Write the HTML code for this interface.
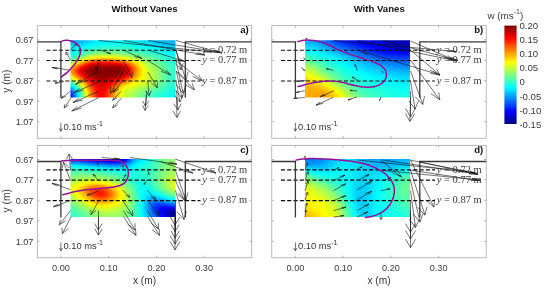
<!DOCTYPE html>
<html lang="en"><head><meta charset="utf-8"><title>Vertical velocity with and without vanes</title>
<style>html,body{margin:0;padding:0;background:#fff}svg{display:block}text{font-family:"Liberation Sans",Arial,sans-serif;fill:#383838}.tk{font-size:9.15px}.sc{font-size:9.4px;fill:#333}.lab{font-size:10.2px}.bold{font-size:9.6px;font-weight:bold;fill:#111}.ser{font-family:"Liberation Serif","DejaVu Serif",serif;font-size:9.6px;fill:#3a3a3a}.cb{font-size:9.6px}</style></head><body>
<svg width="550" height="292" viewBox="0 0 550 292">
<defs>
<filter id="jet" x="-5%" y="-10%" width="110%" height="120%" color-interpolation-filters="sRGB"><feGaussianBlur stdDeviation="2"/><feComponentTransfer><feFuncR type="table" tableValues="0 0 0 0 0.5 1 1 1 0.5"/><feFuncG type="table" tableValues="0 0 0.5 1 1 1 0.5 0 0"/><feFuncB type="table" tableValues="0.5 1 1 1 0.5 0 0 0 0"/><feFuncA type="linear" slope="100" intercept="0"/></feComponentTransfer></filter>
<clipPath id="hca"><rect x="70.5" y="40.2" width="105" height="57.3"/></clipPath>
<clipPath id="hcb"><rect x="305" y="40.2" width="105" height="57.3"/></clipPath>
<clipPath id="hcc"><rect x="70.5" y="159.1" width="105" height="57.8"/></clipPath>
<clipPath id="hcd"><rect x="305" y="159.1" width="105" height="57.8"/></clipPath>
<linearGradient id="cbg" x1="0" y1="1" x2="0" y2="0"><stop offset="0" stop-color="#000080"/><stop offset="0.125" stop-color="#0000ff"/><stop offset="0.375" stop-color="#00ffff"/><stop offset="0.625" stop-color="#ffff00"/><stop offset="0.875" stop-color="#ff0000"/><stop offset="1" stop-color="#800000"/></linearGradient>
</defs>
<rect width="550" height="292" fill="#fff"/>
<g clip-path="url(#hca)"><g filter="url(#jet)">
<rect x="64.5" y="34.2" width="8.5" height="4.5" fill="#3d3d3d"/>
<rect x="72.5" y="34.2" width="4.5" height="4.5" fill="#424242"/>
<rect x="76.5" y="34.2" width="4.5" height="4.5" fill="#474747"/>
<rect x="80.5" y="34.2" width="4.5" height="4.5" fill="#4c4c4c"/>
<rect x="84.5" y="34.2" width="4.5" height="4.5" fill="#4f4f4f"/>
<rect x="88.5" y="34.2" width="4.5" height="4.5" fill="#545454"/>
<rect x="92.5" y="34.2" width="4.5" height="4.5" fill="#565656"/>
<rect x="96.5" y="34.2" width="12.5" height="4.5" fill="#595959"/>
<rect x="108.5" y="34.2" width="8.5" height="4.5" fill="#5b5b5b"/>
<rect x="116.5" y="34.2" width="12.5" height="4.5" fill="#5e5e5e"/>
<rect x="128.5" y="34.2" width="8.5" height="4.5" fill="#5b5b5b"/>
<rect x="136.5" y="34.2" width="4.5" height="4.5" fill="#595959"/>
<rect x="140.5" y="34.2" width="8.5" height="4.5" fill="#565656"/>
<rect x="148.5" y="34.2" width="4.5" height="4.5" fill="#545454"/>
<rect x="152.5" y="34.2" width="4.5" height="4.5" fill="#515151"/>
<rect x="156.5" y="34.2" width="4.5" height="4.5" fill="#4f4f4f"/>
<rect x="160.5" y="34.2" width="24.5" height="4.5" fill="#4c4c4c"/>
<rect x="64.5" y="38.2" width="8.5" height="4.5" fill="#3d3d3d"/>
<rect x="72.5" y="38.2" width="4.5" height="4.5" fill="#424242"/>
<rect x="76.5" y="38.2" width="4.5" height="4.5" fill="#474747"/>
<rect x="80.5" y="38.2" width="4.5" height="4.5" fill="#4c4c4c"/>
<rect x="84.5" y="38.2" width="4.5" height="4.5" fill="#4f4f4f"/>
<rect x="88.5" y="38.2" width="4.5" height="4.5" fill="#545454"/>
<rect x="92.5" y="38.2" width="4.5" height="4.5" fill="#565656"/>
<rect x="96.5" y="38.2" width="12.5" height="4.5" fill="#595959"/>
<rect x="108.5" y="38.2" width="8.5" height="4.5" fill="#5b5b5b"/>
<rect x="116.5" y="38.2" width="12.5" height="4.5" fill="#5e5e5e"/>
<rect x="128.5" y="38.2" width="8.5" height="4.5" fill="#5b5b5b"/>
<rect x="136.5" y="38.2" width="4.5" height="4.5" fill="#595959"/>
<rect x="140.5" y="38.2" width="8.5" height="4.5" fill="#565656"/>
<rect x="148.5" y="38.2" width="4.5" height="4.5" fill="#545454"/>
<rect x="152.5" y="38.2" width="4.5" height="4.5" fill="#515151"/>
<rect x="156.5" y="38.2" width="4.5" height="4.5" fill="#4f4f4f"/>
<rect x="160.5" y="38.2" width="24.5" height="4.5" fill="#4c4c4c"/>
<rect x="64.5" y="42.2" width="8.5" height="4.5" fill="#515151"/>
<rect x="72.5" y="42.2" width="8.5" height="4.5" fill="#545454"/>
<rect x="80.5" y="42.2" width="4.5" height="4.5" fill="#565656"/>
<rect x="84.5" y="42.2" width="4.5" height="4.5" fill="#595959"/>
<rect x="88.5" y="42.2" width="4.5" height="4.5" fill="#5b5b5b"/>
<rect x="92.5" y="42.2" width="4.5" height="4.5" fill="#5e5e5e"/>
<rect x="96.5" y="42.2" width="20.5" height="4.5" fill="#606060"/>
<rect x="116.5" y="42.2" width="8.5" height="4.5" fill="#636363"/>
<rect x="124.5" y="42.2" width="12.5" height="4.5" fill="#606060"/>
<rect x="136.5" y="42.2" width="4.5" height="4.5" fill="#5e5e5e"/>
<rect x="140.5" y="42.2" width="4.5" height="4.5" fill="#5b5b5b"/>
<rect x="144.5" y="42.2" width="4.5" height="4.5" fill="#595959"/>
<rect x="148.5" y="42.2" width="8.5" height="4.5" fill="#565656"/>
<rect x="156.5" y="42.2" width="4.5" height="4.5" fill="#545454"/>
<rect x="160.5" y="42.2" width="8.5" height="4.5" fill="#515151"/>
<rect x="168.5" y="42.2" width="16.5" height="4.5" fill="#4f4f4f"/>
<rect x="64.5" y="46.2" width="8.5" height="4.5" fill="#5b5b5b"/>
<rect x="72.5" y="46.2" width="4.5" height="4.5" fill="#5e5e5e"/>
<rect x="76.5" y="46.2" width="4.5" height="4.5" fill="#606060"/>
<rect x="80.5" y="46.2" width="4.5" height="4.5" fill="#636363"/>
<rect x="84.5" y="46.2" width="4.5" height="4.5" fill="#666666"/>
<rect x="88.5" y="46.2" width="8.5" height="4.5" fill="#686868"/>
<rect x="96.5" y="46.2" width="4.5" height="4.5" fill="#6b6b6b"/>
<rect x="100.5" y="46.2" width="20.5" height="4.5" fill="#6d6d6d"/>
<rect x="120.5" y="46.2" width="12.5" height="4.5" fill="#6b6b6b"/>
<rect x="132.5" y="46.2" width="4.5" height="4.5" fill="#686868"/>
<rect x="136.5" y="46.2" width="4.5" height="4.5" fill="#666666"/>
<rect x="140.5" y="46.2" width="8.5" height="4.5" fill="#636363"/>
<rect x="148.5" y="46.2" width="4.5" height="4.5" fill="#606060"/>
<rect x="152.5" y="46.2" width="4.5" height="4.5" fill="#5e5e5e"/>
<rect x="156.5" y="46.2" width="4.5" height="4.5" fill="#5b5b5b"/>
<rect x="160.5" y="46.2" width="8.5" height="4.5" fill="#595959"/>
<rect x="168.5" y="46.2" width="8.5" height="4.5" fill="#565656"/>
<rect x="176.5" y="46.2" width="8.5" height="4.5" fill="#545454"/>
<rect x="64.5" y="50.2" width="8.5" height="4.5" fill="#5e5e5e"/>
<rect x="72.5" y="50.2" width="4.5" height="4.5" fill="#636363"/>
<rect x="76.5" y="50.2" width="4.5" height="4.5" fill="#686868"/>
<rect x="80.5" y="50.2" width="4.5" height="4.5" fill="#6d6d6d"/>
<rect x="84.5" y="50.2" width="4.5" height="4.5" fill="#727272"/>
<rect x="88.5" y="50.2" width="4.5" height="4.5" fill="#777777"/>
<rect x="92.5" y="50.2" width="4.5" height="4.5" fill="#7a7a7a"/>
<rect x="96.5" y="50.2" width="20.5" height="4.5" fill="#7c7c7c"/>
<rect x="116.5" y="50.2" width="8.5" height="4.5" fill="#7a7a7a"/>
<rect x="124.5" y="50.2" width="4.5" height="4.5" fill="#777777"/>
<rect x="128.5" y="50.2" width="4.5" height="4.5" fill="#757575"/>
<rect x="132.5" y="50.2" width="8.5" height="4.5" fill="#727272"/>
<rect x="140.5" y="50.2" width="4.5" height="4.5" fill="#707070"/>
<rect x="144.5" y="50.2" width="4.5" height="4.5" fill="#6d6d6d"/>
<rect x="148.5" y="50.2" width="8.5" height="4.5" fill="#6b6b6b"/>
<rect x="156.5" y="50.2" width="4.5" height="4.5" fill="#666666"/>
<rect x="160.5" y="50.2" width="4.5" height="4.5" fill="#636363"/>
<rect x="164.5" y="50.2" width="4.5" height="4.5" fill="#606060"/>
<rect x="168.5" y="50.2" width="4.5" height="4.5" fill="#5e5e5e"/>
<rect x="172.5" y="50.2" width="12.5" height="4.5" fill="#5b5b5b"/>
<rect x="64.5" y="54.2" width="8.5" height="4.5" fill="#636363"/>
<rect x="72.5" y="54.2" width="4.5" height="4.5" fill="#6b6b6b"/>
<rect x="76.5" y="54.2" width="4.5" height="4.5" fill="#727272"/>
<rect x="80.5" y="54.2" width="4.5" height="4.5" fill="#7a7a7a"/>
<rect x="84.5" y="54.2" width="4.5" height="4.5" fill="#848484"/>
<rect x="88.5" y="54.2" width="4.5" height="4.5" fill="#898989"/>
<rect x="92.5" y="54.2" width="4.5" height="4.5" fill="#8e8e8e"/>
<rect x="96.5" y="54.2" width="4.5" height="4.5" fill="#919191"/>
<rect x="100.5" y="54.2" width="8.5" height="4.5" fill="#939393"/>
<rect x="108.5" y="54.2" width="8.5" height="4.5" fill="#919191"/>
<rect x="116.5" y="54.2" width="4.5" height="4.5" fill="#8e8e8e"/>
<rect x="120.5" y="54.2" width="4.5" height="4.5" fill="#8c8c8c"/>
<rect x="124.5" y="54.2" width="4.5" height="4.5" fill="#878787"/>
<rect x="128.5" y="54.2" width="4.5" height="4.5" fill="#848484"/>
<rect x="132.5" y="54.2" width="4.5" height="4.5" fill="#7f7f7f"/>
<rect x="136.5" y="54.2" width="4.5" height="4.5" fill="#7c7c7c"/>
<rect x="140.5" y="54.2" width="4.5" height="4.5" fill="#7a7a7a"/>
<rect x="144.5" y="54.2" width="4.5" height="4.5" fill="#777777"/>
<rect x="148.5" y="54.2" width="4.5" height="4.5" fill="#757575"/>
<rect x="152.5" y="54.2" width="4.5" height="4.5" fill="#727272"/>
<rect x="156.5" y="54.2" width="4.5" height="4.5" fill="#707070"/>
<rect x="160.5" y="54.2" width="4.5" height="4.5" fill="#6b6b6b"/>
<rect x="164.5" y="54.2" width="4.5" height="4.5" fill="#686868"/>
<rect x="168.5" y="54.2" width="4.5" height="4.5" fill="#666666"/>
<rect x="172.5" y="54.2" width="4.5" height="4.5" fill="#636363"/>
<rect x="176.5" y="54.2" width="8.5" height="4.5" fill="#606060"/>
<rect x="64.5" y="58.2" width="8.5" height="4.5" fill="#727272"/>
<rect x="72.5" y="58.2" width="4.5" height="4.5" fill="#828282"/>
<rect x="76.5" y="58.2" width="4.5" height="4.5" fill="#8e8e8e"/>
<rect x="80.5" y="58.2" width="4.5" height="4.5" fill="#9e9e9e"/>
<rect x="84.5" y="58.2" width="4.5" height="4.5" fill="#aaaaaa"/>
<rect x="88.5" y="58.2" width="4.5" height="4.5" fill="#b7b7b7"/>
<rect x="92.5" y="58.2" width="4.5" height="4.5" fill="#bcbcbc"/>
<rect x="96.5" y="58.2" width="12.5" height="4.5" fill="#c1c1c1"/>
<rect x="108.5" y="58.2" width="4.5" height="4.5" fill="#bfbfbf"/>
<rect x="112.5" y="58.2" width="4.5" height="4.5" fill="#bcbcbc"/>
<rect x="116.5" y="58.2" width="4.5" height="4.5" fill="#bababa"/>
<rect x="120.5" y="58.2" width="4.5" height="4.5" fill="#b5b5b5"/>
<rect x="124.5" y="58.2" width="4.5" height="4.5" fill="#aaaaaa"/>
<rect x="128.5" y="58.2" width="4.5" height="4.5" fill="#a3a3a3"/>
<rect x="132.5" y="58.2" width="4.5" height="4.5" fill="#999999"/>
<rect x="136.5" y="58.2" width="4.5" height="4.5" fill="#919191"/>
<rect x="140.5" y="58.2" width="4.5" height="4.5" fill="#898989"/>
<rect x="144.5" y="58.2" width="4.5" height="4.5" fill="#848484"/>
<rect x="148.5" y="58.2" width="4.5" height="4.5" fill="#7f7f7f"/>
<rect x="152.5" y="58.2" width="4.5" height="4.5" fill="#7a7a7a"/>
<rect x="156.5" y="58.2" width="4.5" height="4.5" fill="#757575"/>
<rect x="160.5" y="58.2" width="4.5" height="4.5" fill="#727272"/>
<rect x="164.5" y="58.2" width="4.5" height="4.5" fill="#6d6d6d"/>
<rect x="168.5" y="58.2" width="4.5" height="4.5" fill="#6b6b6b"/>
<rect x="172.5" y="58.2" width="12.5" height="4.5" fill="#666666"/>
<rect x="64.5" y="62.2" width="8.5" height="4.5" fill="#8c8c8c"/>
<rect x="72.5" y="62.2" width="4.5" height="4.5" fill="#a3a3a3"/>
<rect x="76.5" y="62.2" width="4.5" height="4.5" fill="#b7b7b7"/>
<rect x="80.5" y="62.2" width="4.5" height="4.5" fill="#c9c9c9"/>
<rect x="84.5" y="62.2" width="4.5" height="4.5" fill="#d8d8d8"/>
<rect x="88.5" y="62.2" width="4.5" height="4.5" fill="#e5e5e5"/>
<rect x="92.5" y="62.2" width="20.5" height="4.5" fill="#ededed"/>
<rect x="112.5" y="62.2" width="4.5" height="4.5" fill="#eaeaea"/>
<rect x="116.5" y="62.2" width="4.5" height="4.5" fill="#e8e8e8"/>
<rect x="120.5" y="62.2" width="4.5" height="4.5" fill="#e2e2e2"/>
<rect x="124.5" y="62.2" width="4.5" height="4.5" fill="#d6d6d6"/>
<rect x="128.5" y="62.2" width="4.5" height="4.5" fill="#c4c4c4"/>
<rect x="132.5" y="62.2" width="4.5" height="4.5" fill="#b5b5b5"/>
<rect x="136.5" y="62.2" width="4.5" height="4.5" fill="#a5a5a5"/>
<rect x="140.5" y="62.2" width="4.5" height="4.5" fill="#999999"/>
<rect x="144.5" y="62.2" width="4.5" height="4.5" fill="#8e8e8e"/>
<rect x="148.5" y="62.2" width="4.5" height="4.5" fill="#878787"/>
<rect x="152.5" y="62.2" width="4.5" height="4.5" fill="#828282"/>
<rect x="156.5" y="62.2" width="4.5" height="4.5" fill="#7c7c7c"/>
<rect x="160.5" y="62.2" width="4.5" height="4.5" fill="#777777"/>
<rect x="164.5" y="62.2" width="4.5" height="4.5" fill="#727272"/>
<rect x="168.5" y="62.2" width="4.5" height="4.5" fill="#6d6d6d"/>
<rect x="172.5" y="62.2" width="4.5" height="4.5" fill="#6b6b6b"/>
<rect x="176.5" y="62.2" width="8.5" height="4.5" fill="#686868"/>
<rect x="64.5" y="66.2" width="8.5" height="4.5" fill="#afafaf"/>
<rect x="72.5" y="66.2" width="4.5" height="4.5" fill="#c6c6c6"/>
<rect x="76.5" y="66.2" width="4.5" height="4.5" fill="#d8d8d8"/>
<rect x="80.5" y="66.2" width="4.5" height="4.5" fill="#e8e8e8"/>
<rect x="84.5" y="66.2" width="4.5" height="4.5" fill="#f4f4f4"/>
<rect x="88.5" y="66.2" width="4.5" height="4.5" fill="#fcfcfc"/>
<rect x="92.5" y="66.2" width="8.5" height="4.5" fill="#fefefe"/>
<rect x="100.5" y="66.2" width="12.5" height="4.5" fill="#fcfcfc"/>
<rect x="112.5" y="66.2" width="12.5" height="4.5" fill="#fefefe"/>
<rect x="124.5" y="66.2" width="4.5" height="4.5" fill="#efefef"/>
<rect x="128.5" y="66.2" width="4.5" height="4.5" fill="#dbdbdb"/>
<rect x="132.5" y="66.2" width="4.5" height="4.5" fill="#c4c4c4"/>
<rect x="136.5" y="66.2" width="4.5" height="4.5" fill="#b2b2b2"/>
<rect x="140.5" y="66.2" width="4.5" height="4.5" fill="#a3a3a3"/>
<rect x="144.5" y="66.2" width="4.5" height="4.5" fill="#969696"/>
<rect x="148.5" y="66.2" width="4.5" height="4.5" fill="#8e8e8e"/>
<rect x="152.5" y="66.2" width="4.5" height="4.5" fill="#898989"/>
<rect x="156.5" y="66.2" width="4.5" height="4.5" fill="#828282"/>
<rect x="160.5" y="66.2" width="4.5" height="4.5" fill="#7a7a7a"/>
<rect x="164.5" y="66.2" width="4.5" height="4.5" fill="#757575"/>
<rect x="168.5" y="66.2" width="4.5" height="4.5" fill="#707070"/>
<rect x="172.5" y="66.2" width="12.5" height="4.5" fill="#6b6b6b"/>
<rect x="64.5" y="70.2" width="8.5" height="4.5" fill="#b5b5b5"/>
<rect x="72.5" y="70.2" width="4.5" height="4.5" fill="#cccccc"/>
<rect x="76.5" y="70.2" width="4.5" height="4.5" fill="#dddddd"/>
<rect x="80.5" y="70.2" width="4.5" height="4.5" fill="#ededed"/>
<rect x="84.5" y="70.2" width="4.5" height="4.5" fill="#f9f9f9"/>
<rect x="88.5" y="70.2" width="36.5" height="4.5" fill="#fefefe"/>
<rect x="124.5" y="70.2" width="4.5" height="4.5" fill="#f4f4f4"/>
<rect x="128.5" y="70.2" width="4.5" height="4.5" fill="#dddddd"/>
<rect x="132.5" y="70.2" width="4.5" height="4.5" fill="#c6c6c6"/>
<rect x="136.5" y="70.2" width="4.5" height="4.5" fill="#b2b2b2"/>
<rect x="140.5" y="70.2" width="4.5" height="4.5" fill="#a3a3a3"/>
<rect x="144.5" y="70.2" width="4.5" height="4.5" fill="#999999"/>
<rect x="148.5" y="70.2" width="4.5" height="4.5" fill="#919191"/>
<rect x="152.5" y="70.2" width="4.5" height="4.5" fill="#8c8c8c"/>
<rect x="156.5" y="70.2" width="4.5" height="4.5" fill="#848484"/>
<rect x="160.5" y="70.2" width="4.5" height="4.5" fill="#7c7c7c"/>
<rect x="164.5" y="70.2" width="4.5" height="4.5" fill="#757575"/>
<rect x="168.5" y="70.2" width="4.5" height="4.5" fill="#707070"/>
<rect x="172.5" y="70.2" width="12.5" height="4.5" fill="#6b6b6b"/>
<rect x="64.5" y="74.2" width="8.5" height="4.5" fill="#a3a3a3"/>
<rect x="72.5" y="74.2" width="4.5" height="4.5" fill="#b7b7b7"/>
<rect x="76.5" y="74.2" width="4.5" height="4.5" fill="#cccccc"/>
<rect x="80.5" y="74.2" width="4.5" height="4.5" fill="#dddddd"/>
<rect x="84.5" y="74.2" width="4.5" height="4.5" fill="#ededed"/>
<rect x="88.5" y="74.2" width="4.5" height="4.5" fill="#f7f7f7"/>
<rect x="92.5" y="74.2" width="20.5" height="4.5" fill="#fcfcfc"/>
<rect x="112.5" y="74.2" width="8.5" height="4.5" fill="#f9f9f9"/>
<rect x="120.5" y="74.2" width="4.5" height="4.5" fill="#f2f2f2"/>
<rect x="124.5" y="74.2" width="4.5" height="4.5" fill="#e2e2e2"/>
<rect x="128.5" y="74.2" width="4.5" height="4.5" fill="#cecece"/>
<rect x="132.5" y="74.2" width="4.5" height="4.5" fill="#bcbcbc"/>
<rect x="136.5" y="74.2" width="4.5" height="4.5" fill="#adadad"/>
<rect x="140.5" y="74.2" width="4.5" height="4.5" fill="#a0a0a0"/>
<rect x="144.5" y="74.2" width="4.5" height="4.5" fill="#999999"/>
<rect x="148.5" y="74.2" width="4.5" height="4.5" fill="#919191"/>
<rect x="152.5" y="74.2" width="4.5" height="4.5" fill="#8c8c8c"/>
<rect x="156.5" y="74.2" width="4.5" height="4.5" fill="#848484"/>
<rect x="160.5" y="74.2" width="4.5" height="4.5" fill="#7c7c7c"/>
<rect x="164.5" y="74.2" width="4.5" height="4.5" fill="#757575"/>
<rect x="168.5" y="74.2" width="4.5" height="4.5" fill="#707070"/>
<rect x="172.5" y="74.2" width="12.5" height="4.5" fill="#6b6b6b"/>
<rect x="64.5" y="78.2" width="8.5" height="4.5" fill="#7f7f7f"/>
<rect x="72.5" y="78.2" width="4.5" height="4.5" fill="#969696"/>
<rect x="76.5" y="78.2" width="4.5" height="4.5" fill="#aaaaaa"/>
<rect x="80.5" y="78.2" width="4.5" height="4.5" fill="#bfbfbf"/>
<rect x="84.5" y="78.2" width="4.5" height="4.5" fill="#d3d3d3"/>
<rect x="88.5" y="78.2" width="4.5" height="4.5" fill="#e2e2e2"/>
<rect x="92.5" y="78.2" width="4.5" height="4.5" fill="#ededed"/>
<rect x="96.5" y="78.2" width="4.5" height="4.5" fill="#f2f2f2"/>
<rect x="100.5" y="78.2" width="4.5" height="4.5" fill="#f4f4f4"/>
<rect x="104.5" y="78.2" width="4.5" height="4.5" fill="#f2f2f2"/>
<rect x="108.5" y="78.2" width="4.5" height="4.5" fill="#ededed"/>
<rect x="112.5" y="78.2" width="4.5" height="4.5" fill="#e8e8e8"/>
<rect x="116.5" y="78.2" width="4.5" height="4.5" fill="#dddddd"/>
<rect x="120.5" y="78.2" width="4.5" height="4.5" fill="#d3d3d3"/>
<rect x="124.5" y="78.2" width="4.5" height="4.5" fill="#c6c6c6"/>
<rect x="128.5" y="78.2" width="4.5" height="4.5" fill="#b7b7b7"/>
<rect x="132.5" y="78.2" width="4.5" height="4.5" fill="#aaaaaa"/>
<rect x="136.5" y="78.2" width="4.5" height="4.5" fill="#a3a3a3"/>
<rect x="140.5" y="78.2" width="4.5" height="4.5" fill="#9b9b9b"/>
<rect x="144.5" y="78.2" width="4.5" height="4.5" fill="#969696"/>
<rect x="148.5" y="78.2" width="4.5" height="4.5" fill="#919191"/>
<rect x="152.5" y="78.2" width="4.5" height="4.5" fill="#8c8c8c"/>
<rect x="156.5" y="78.2" width="4.5" height="4.5" fill="#848484"/>
<rect x="160.5" y="78.2" width="4.5" height="4.5" fill="#7c7c7c"/>
<rect x="164.5" y="78.2" width="4.5" height="4.5" fill="#757575"/>
<rect x="168.5" y="78.2" width="4.5" height="4.5" fill="#707070"/>
<rect x="172.5" y="78.2" width="12.5" height="4.5" fill="#6b6b6b"/>
<rect x="64.5" y="82.2" width="8.5" height="4.5" fill="#606060"/>
<rect x="72.5" y="82.2" width="4.5" height="4.5" fill="#757575"/>
<rect x="76.5" y="82.2" width="4.5" height="4.5" fill="#8c8c8c"/>
<rect x="80.5" y="82.2" width="4.5" height="4.5" fill="#a3a3a3"/>
<rect x="84.5" y="82.2" width="4.5" height="4.5" fill="#bcbcbc"/>
<rect x="88.5" y="82.2" width="4.5" height="4.5" fill="#d3d3d3"/>
<rect x="92.5" y="82.2" width="4.5" height="4.5" fill="#e0e0e0"/>
<rect x="96.5" y="82.2" width="8.5" height="4.5" fill="#eaeaea"/>
<rect x="104.5" y="82.2" width="4.5" height="4.5" fill="#e8e8e8"/>
<rect x="108.5" y="82.2" width="4.5" height="4.5" fill="#dddddd"/>
<rect x="112.5" y="82.2" width="4.5" height="4.5" fill="#d1d1d1"/>
<rect x="116.5" y="82.2" width="4.5" height="4.5" fill="#c1c1c1"/>
<rect x="120.5" y="82.2" width="4.5" height="4.5" fill="#b5b5b5"/>
<rect x="124.5" y="82.2" width="4.5" height="4.5" fill="#aaaaaa"/>
<rect x="128.5" y="82.2" width="4.5" height="4.5" fill="#a3a3a3"/>
<rect x="132.5" y="82.2" width="4.5" height="4.5" fill="#9e9e9e"/>
<rect x="136.5" y="82.2" width="4.5" height="4.5" fill="#999999"/>
<rect x="140.5" y="82.2" width="4.5" height="4.5" fill="#939393"/>
<rect x="144.5" y="82.2" width="4.5" height="4.5" fill="#919191"/>
<rect x="148.5" y="82.2" width="4.5" height="4.5" fill="#8c8c8c"/>
<rect x="152.5" y="82.2" width="4.5" height="4.5" fill="#878787"/>
<rect x="156.5" y="82.2" width="4.5" height="4.5" fill="#7f7f7f"/>
<rect x="160.5" y="82.2" width="4.5" height="4.5" fill="#777777"/>
<rect x="164.5" y="82.2" width="4.5" height="4.5" fill="#727272"/>
<rect x="168.5" y="82.2" width="4.5" height="4.5" fill="#6d6d6d"/>
<rect x="172.5" y="82.2" width="4.5" height="4.5" fill="#6b6b6b"/>
<rect x="176.5" y="82.2" width="8.5" height="4.5" fill="#686868"/>
<rect x="64.5" y="86.2" width="8.5" height="4.5" fill="#444444"/>
<rect x="72.5" y="86.2" width="4.5" height="4.5" fill="#595959"/>
<rect x="76.5" y="86.2" width="4.5" height="4.5" fill="#727272"/>
<rect x="80.5" y="86.2" width="4.5" height="4.5" fill="#8c8c8c"/>
<rect x="84.5" y="86.2" width="4.5" height="4.5" fill="#aaaaaa"/>
<rect x="88.5" y="86.2" width="4.5" height="4.5" fill="#c6c6c6"/>
<rect x="92.5" y="86.2" width="4.5" height="4.5" fill="#d8d8d8"/>
<rect x="96.5" y="86.2" width="4.5" height="4.5" fill="#e2e2e2"/>
<rect x="100.5" y="86.2" width="4.5" height="4.5" fill="#e5e5e5"/>
<rect x="104.5" y="86.2" width="4.5" height="4.5" fill="#dddddd"/>
<rect x="108.5" y="86.2" width="4.5" height="4.5" fill="#d1d1d1"/>
<rect x="112.5" y="86.2" width="4.5" height="4.5" fill="#c1c1c1"/>
<rect x="116.5" y="86.2" width="4.5" height="4.5" fill="#afafaf"/>
<rect x="120.5" y="86.2" width="4.5" height="4.5" fill="#a0a0a0"/>
<rect x="124.5" y="86.2" width="4.5" height="4.5" fill="#999999"/>
<rect x="128.5" y="86.2" width="4.5" height="4.5" fill="#969696"/>
<rect x="132.5" y="86.2" width="4.5" height="4.5" fill="#919191"/>
<rect x="136.5" y="86.2" width="4.5" height="4.5" fill="#8e8e8e"/>
<rect x="140.5" y="86.2" width="4.5" height="4.5" fill="#898989"/>
<rect x="144.5" y="86.2" width="4.5" height="4.5" fill="#878787"/>
<rect x="148.5" y="86.2" width="4.5" height="4.5" fill="#828282"/>
<rect x="152.5" y="86.2" width="4.5" height="4.5" fill="#7c7c7c"/>
<rect x="156.5" y="86.2" width="4.5" height="4.5" fill="#777777"/>
<rect x="160.5" y="86.2" width="4.5" height="4.5" fill="#727272"/>
<rect x="164.5" y="86.2" width="4.5" height="4.5" fill="#6d6d6d"/>
<rect x="168.5" y="86.2" width="4.5" height="4.5" fill="#6b6b6b"/>
<rect x="172.5" y="86.2" width="12.5" height="4.5" fill="#666666"/>
<rect x="64.5" y="90.2" width="8.5" height="4.5" fill="#2b2b2b"/>
<rect x="72.5" y="90.2" width="4.5" height="4.5" fill="#444444"/>
<rect x="76.5" y="90.2" width="4.5" height="4.5" fill="#606060"/>
<rect x="80.5" y="90.2" width="4.5" height="4.5" fill="#7f7f7f"/>
<rect x="84.5" y="90.2" width="4.5" height="4.5" fill="#a0a0a0"/>
<rect x="88.5" y="90.2" width="4.5" height="4.5" fill="#bcbcbc"/>
<rect x="92.5" y="90.2" width="4.5" height="4.5" fill="#d3d3d3"/>
<rect x="96.5" y="90.2" width="4.5" height="4.5" fill="#e0e0e0"/>
<rect x="100.5" y="90.2" width="4.5" height="4.5" fill="#e2e2e2"/>
<rect x="104.5" y="90.2" width="4.5" height="4.5" fill="#d8d8d8"/>
<rect x="108.5" y="90.2" width="4.5" height="4.5" fill="#c9c9c9"/>
<rect x="112.5" y="90.2" width="4.5" height="4.5" fill="#b7b7b7"/>
<rect x="116.5" y="90.2" width="4.5" height="4.5" fill="#a8a8a8"/>
<rect x="120.5" y="90.2" width="4.5" height="4.5" fill="#999999"/>
<rect x="124.5" y="90.2" width="4.5" height="4.5" fill="#919191"/>
<rect x="128.5" y="90.2" width="4.5" height="4.5" fill="#8e8e8e"/>
<rect x="132.5" y="90.2" width="4.5" height="4.5" fill="#898989"/>
<rect x="136.5" y="90.2" width="4.5" height="4.5" fill="#848484"/>
<rect x="140.5" y="90.2" width="4.5" height="4.5" fill="#7f7f7f"/>
<rect x="144.5" y="90.2" width="4.5" height="4.5" fill="#7a7a7a"/>
<rect x="148.5" y="90.2" width="4.5" height="4.5" fill="#757575"/>
<rect x="152.5" y="90.2" width="4.5" height="4.5" fill="#727272"/>
<rect x="156.5" y="90.2" width="4.5" height="4.5" fill="#6d6d6d"/>
<rect x="160.5" y="90.2" width="4.5" height="4.5" fill="#6b6b6b"/>
<rect x="164.5" y="90.2" width="8.5" height="4.5" fill="#666666"/>
<rect x="172.5" y="90.2" width="12.5" height="4.5" fill="#636363"/>
<rect x="64.5" y="94.2" width="8.5" height="4.5" fill="#191919"/>
<rect x="72.5" y="94.2" width="4.5" height="4.5" fill="#3a3a3a"/>
<rect x="76.5" y="94.2" width="4.5" height="4.5" fill="#5b5b5b"/>
<rect x="80.5" y="94.2" width="4.5" height="4.5" fill="#7c7c7c"/>
<rect x="84.5" y="94.2" width="4.5" height="4.5" fill="#9e9e9e"/>
<rect x="88.5" y="94.2" width="4.5" height="4.5" fill="#bababa"/>
<rect x="92.5" y="94.2" width="4.5" height="4.5" fill="#d1d1d1"/>
<rect x="96.5" y="94.2" width="4.5" height="4.5" fill="#dddddd"/>
<rect x="100.5" y="94.2" width="4.5" height="4.5" fill="#e0e0e0"/>
<rect x="104.5" y="94.2" width="4.5" height="4.5" fill="#d8d8d8"/>
<rect x="108.5" y="94.2" width="4.5" height="4.5" fill="#c6c6c6"/>
<rect x="112.5" y="94.2" width="4.5" height="4.5" fill="#b5b5b5"/>
<rect x="116.5" y="94.2" width="4.5" height="4.5" fill="#a5a5a5"/>
<rect x="120.5" y="94.2" width="4.5" height="4.5" fill="#969696"/>
<rect x="124.5" y="94.2" width="4.5" height="4.5" fill="#8e8e8e"/>
<rect x="128.5" y="94.2" width="4.5" height="4.5" fill="#8c8c8c"/>
<rect x="132.5" y="94.2" width="4.5" height="4.5" fill="#878787"/>
<rect x="136.5" y="94.2" width="4.5" height="4.5" fill="#7f7f7f"/>
<rect x="140.5" y="94.2" width="4.5" height="4.5" fill="#7a7a7a"/>
<rect x="144.5" y="94.2" width="4.5" height="4.5" fill="#757575"/>
<rect x="148.5" y="94.2" width="4.5" height="4.5" fill="#707070"/>
<rect x="152.5" y="94.2" width="4.5" height="4.5" fill="#6d6d6d"/>
<rect x="156.5" y="94.2" width="4.5" height="4.5" fill="#6b6b6b"/>
<rect x="160.5" y="94.2" width="4.5" height="4.5" fill="#686868"/>
<rect x="164.5" y="94.2" width="4.5" height="4.5" fill="#666666"/>
<rect x="168.5" y="94.2" width="4.5" height="4.5" fill="#636363"/>
<rect x="172.5" y="94.2" width="12.5" height="4.5" fill="#606060"/>
<rect x="64.5" y="98.2" width="8.5" height="4.5" fill="#141414"/>
<rect x="72.5" y="98.2" width="4.5" height="4.5" fill="#383838"/>
<rect x="76.5" y="98.2" width="4.5" height="4.5" fill="#5b5b5b"/>
<rect x="80.5" y="98.2" width="4.5" height="4.5" fill="#7c7c7c"/>
<rect x="84.5" y="98.2" width="4.5" height="4.5" fill="#9e9e9e"/>
<rect x="88.5" y="98.2" width="4.5" height="4.5" fill="#bcbcbc"/>
<rect x="92.5" y="98.2" width="4.5" height="4.5" fill="#d1d1d1"/>
<rect x="96.5" y="98.2" width="4.5" height="4.5" fill="#dddddd"/>
<rect x="100.5" y="98.2" width="4.5" height="4.5" fill="#e0e0e0"/>
<rect x="104.5" y="98.2" width="4.5" height="4.5" fill="#d8d8d8"/>
<rect x="108.5" y="98.2" width="4.5" height="4.5" fill="#c6c6c6"/>
<rect x="112.5" y="98.2" width="4.5" height="4.5" fill="#b7b7b7"/>
<rect x="116.5" y="98.2" width="4.5" height="4.5" fill="#a5a5a5"/>
<rect x="120.5" y="98.2" width="4.5" height="4.5" fill="#999999"/>
<rect x="124.5" y="98.2" width="4.5" height="4.5" fill="#8e8e8e"/>
<rect x="128.5" y="98.2" width="4.5" height="4.5" fill="#898989"/>
<rect x="132.5" y="98.2" width="4.5" height="4.5" fill="#848484"/>
<rect x="136.5" y="98.2" width="4.5" height="4.5" fill="#7f7f7f"/>
<rect x="140.5" y="98.2" width="4.5" height="4.5" fill="#7a7a7a"/>
<rect x="144.5" y="98.2" width="4.5" height="4.5" fill="#757575"/>
<rect x="148.5" y="98.2" width="4.5" height="4.5" fill="#707070"/>
<rect x="152.5" y="98.2" width="4.5" height="4.5" fill="#6d6d6d"/>
<rect x="156.5" y="98.2" width="4.5" height="4.5" fill="#6b6b6b"/>
<rect x="160.5" y="98.2" width="4.5" height="4.5" fill="#686868"/>
<rect x="164.5" y="98.2" width="4.5" height="4.5" fill="#666666"/>
<rect x="168.5" y="98.2" width="4.5" height="4.5" fill="#636363"/>
<rect x="172.5" y="98.2" width="12.5" height="4.5" fill="#606060"/>
<rect x="64.5" y="102.2" width="8.5" height="4.5" fill="#141414"/>
<rect x="72.5" y="102.2" width="4.5" height="4.5" fill="#383838"/>
<rect x="76.5" y="102.2" width="4.5" height="4.5" fill="#5b5b5b"/>
<rect x="80.5" y="102.2" width="4.5" height="4.5" fill="#7c7c7c"/>
<rect x="84.5" y="102.2" width="4.5" height="4.5" fill="#9e9e9e"/>
<rect x="88.5" y="102.2" width="4.5" height="4.5" fill="#bcbcbc"/>
<rect x="92.5" y="102.2" width="4.5" height="4.5" fill="#d1d1d1"/>
<rect x="96.5" y="102.2" width="4.5" height="4.5" fill="#dddddd"/>
<rect x="100.5" y="102.2" width="4.5" height="4.5" fill="#e0e0e0"/>
<rect x="104.5" y="102.2" width="4.5" height="4.5" fill="#d8d8d8"/>
<rect x="108.5" y="102.2" width="4.5" height="4.5" fill="#c6c6c6"/>
<rect x="112.5" y="102.2" width="4.5" height="4.5" fill="#b7b7b7"/>
<rect x="116.5" y="102.2" width="4.5" height="4.5" fill="#a5a5a5"/>
<rect x="120.5" y="102.2" width="4.5" height="4.5" fill="#999999"/>
<rect x="124.5" y="102.2" width="4.5" height="4.5" fill="#8e8e8e"/>
<rect x="128.5" y="102.2" width="4.5" height="4.5" fill="#898989"/>
<rect x="132.5" y="102.2" width="4.5" height="4.5" fill="#848484"/>
<rect x="136.5" y="102.2" width="4.5" height="4.5" fill="#7f7f7f"/>
<rect x="140.5" y="102.2" width="4.5" height="4.5" fill="#7a7a7a"/>
<rect x="144.5" y="102.2" width="4.5" height="4.5" fill="#757575"/>
<rect x="148.5" y="102.2" width="4.5" height="4.5" fill="#707070"/>
<rect x="152.5" y="102.2" width="4.5" height="4.5" fill="#6d6d6d"/>
<rect x="156.5" y="102.2" width="4.5" height="4.5" fill="#6b6b6b"/>
<rect x="160.5" y="102.2" width="4.5" height="4.5" fill="#686868"/>
<rect x="164.5" y="102.2" width="4.5" height="4.5" fill="#666666"/>
<rect x="168.5" y="102.2" width="4.5" height="4.5" fill="#636363"/>
<rect x="172.5" y="102.2" width="12.5" height="4.5" fill="#606060"/>
</g></g>
<rect x="37.3" y="25.7" width="214.4" height="112.5" fill="none" stroke="#9c9c9c" stroke-width="0.7"/>
<path d="M60.9 138.2v-2.2M60.9 25.7v2.2M108.6 138.2v-2.2M108.6 25.7v2.2M156.4 138.2v-2.2M156.4 25.7v2.2M204.1 138.2v-2.2M204.1 25.7v2.2M37.3 39.9h2.2M251.7 39.9h-2.2M37.3 60.3h2.2M251.7 60.3h-2.2M37.3 80.8h2.2M251.7 80.8h-2.2M37.3 101.2h2.2M251.7 101.2h-2.2M37.3 121.7h2.2M251.7 121.7h-2.2" stroke="#9c9c9c" stroke-width="0.7" fill="none"/>
<path d="M46.4 50.3H200.5M46.4 60.5H200.5M46.4 81H200.5" stroke="#0a0a0a" stroke-width="1.1" stroke-dasharray="4.1 2.2" fill="none"/>
<path d="M37.3 41.9H60.9V97.8M185.3 97.8V41.9H251.7" stroke="#383838" stroke-width="1.3" fill="none"/>
<path d="M99 40.5L212 52M203 52L212 52L204 50.2M123.6 40.5L205 55M195.8 54.4L205 55L197.5 52.6M148.4 40.5L221 52.5M211.8 52L221 52.5L213.4 50.2M176 40.5L222 53M212.5 51.6L222 53L215.1 49.9M70.5 49.7L77 43.6M76 45.8L77 43.6L73.7 45.4M100.5 50.2L111 53.8M106.8 53L111 53.8L108.2 52.2M123.6 50.2L142 58.6M134.3 56.5L142 58.6L137.5 55.2M148.4 50.2L185 61.5M175.4 59.9L185 61.5L178.3 58.1M176 50.2L186 80M178.6 72.2L186 80L188 71.7M70.5 60.2L66 52M69.1 54.5L66 52L65.9 54.9M99 60.8L96 70M95.2 66.9L96 70L98.8 67.1M123.6 60.8L132 77.5M126 72.3L132 77.5L132.4 71.7M148.4 60.8L170.7 75M160.9 71.2L170.7 75L166.2 69.7M176 60.8L202.4 81M192.6 76.6L202.4 81L198.7 75.1M69 70L52 67.5M58.1 67.7L52 67.5L57.1 68.9M98.5 71L75.6 84.4M80.4 79.3L75.6 84.4L85.4 80.9M122.6 72L110.8 93.3M110.6 85.9L110.8 93.3L118.8 86.7M147.8 72L157.4 87.8M151.2 82.9L157.4 87.8L157.3 82.2M176 71L194.5 90M185 84.5L194.5 90L192.1 83.3M64 81.5L55 83.2M57.6 82.3L55 83.2L58.3 83M99.8 81.3L73.7 92.7M79.5 88.5L73.7 92.7L83.5 90.1M122.8 80.5L113.4 92.4M114.2 88.1L113.4 92.4L118.8 88.8M147.8 81L149 95.6M145.8 90.8L149 95.6L151.4 90.7M176 81L180 102M174.6 95.2L180 102L182.7 94.9M70.5 91L61.3 98.4M62.9 95.6L61.3 98.4L65.8 96.3M98.5 91.4L73 102.5M78.8 98.3L73 102.5L82.8 99.9M121 91.5L112.7 100.4M113.7 97.2L112.7 100.4L117.2 97.8M146.7 91L145.3 106M142.9 101L145.3 106L148.7 101.1M176.5 91L178 110M173.8 103.8L178 110L181.2 103.7M176 60.8L183 93M176.3 84.9L183 93L186 84.5M176.3 71L182 98M175.4 89.9L182 98L185.1 89.5M176 50.2L181 70M175.5 63.6L181 70L183.2 63.3M71 97.8L64.2 108M64.5 104.4L64.2 108L68.4 104.9M98.5 97.7L71.8 111M77.2 106.4L71.8 111L81.6 108M121.6 97.8L112.7 108M113.7 104.3L112.7 108L117.6 104.9M146.7 95L145 110.5M142.6 105.3L145 110.5L148.5 105.4M176.5 97.7L177 117.5M173 111L177 117.5L180.6 110.9" fill="none" stroke="#141414" stroke-width="0.6" stroke-linejoin="miter"/>
<path d="M61.1 41.7C62.5 40.4 65 40.1 67.5 40.3C72 40.8 76.6 43 78.8 45.8C80.6 48.3 80.7 51 80.2 53.5C79.2 58 76.5 62 73.5 65.8C70 70.2 65.5 74.3 61.4 77" transform="translate(0 0)" stroke="#951295" stroke-width="1.5" fill="none" stroke-linecap="round"/>
<text x="202.2" y="53" class="ser" textLength="45" lengthAdjust="spacingAndGlyphs"><tspan font-style="italic">y</tspan> = 0.72 m</text>
<text x="202.2" y="63.2" class="ser" textLength="45" lengthAdjust="spacingAndGlyphs"><tspan font-style="italic">y</tspan> = 0.77 m</text>
<text x="202.2" y="83.7" class="ser" textLength="45" lengthAdjust="spacingAndGlyphs"><tspan font-style="italic">y</tspan> = 0.87 m</text>
<text x="248.8" y="33.3" class="bold" text-anchor="end">a)</text>
<path d="M60.9 122.8L60.9 131.2M59.3 128.4L60.9 131.2L62.5 128.4" fill="none" stroke="#333" stroke-width="0.7"/>
<text x="63.4" y="129.5" class="sc">0.10 ms<tspan dy="-3.9" font-size="7">-1</tspan></text>
<text x="33.4" y="43.3" class="tk" text-anchor="end">0.67</text>
<text x="33.4" y="63.7" class="tk" text-anchor="end">0.77</text>
<text x="33.4" y="84.2" class="tk" text-anchor="end">0.87</text>
<text x="33.4" y="104.6" class="tk" text-anchor="end">0.97</text>
<text x="33.4" y="125.1" class="tk" text-anchor="end">1.07</text>
<g clip-path="url(#hcb)"><g filter="url(#jet)">
<rect x="299" y="34.2" width="12.5" height="4.5" fill="#4c4c4c"/>
<rect x="311" y="34.2" width="4.5" height="4.5" fill="#494949"/>
<rect x="315" y="34.2" width="4.5" height="4.5" fill="#444444"/>
<rect x="319" y="34.2" width="4.5" height="4.5" fill="#3f3f3f"/>
<rect x="323" y="34.2" width="4.5" height="4.5" fill="#3a3a3a"/>
<rect x="327" y="34.2" width="4.5" height="4.5" fill="#333333"/>
<rect x="331" y="34.2" width="4.5" height="4.5" fill="#2d2d2d"/>
<rect x="335" y="34.2" width="4.5" height="4.5" fill="#2b2b2b"/>
<rect x="339" y="34.2" width="4.5" height="4.5" fill="#282828"/>
<rect x="343" y="34.2" width="8.5" height="4.5" fill="#232323"/>
<rect x="351" y="34.2" width="4.5" height="4.5" fill="#212121"/>
<rect x="355" y="34.2" width="4.5" height="4.5" fill="#1e1e1e"/>
<rect x="359" y="34.2" width="8.5" height="4.5" fill="#1c1c1c"/>
<rect x="367" y="34.2" width="4.5" height="4.5" fill="#191919"/>
<rect x="371" y="34.2" width="4.5" height="4.5" fill="#161616"/>
<rect x="375" y="34.2" width="8.5" height="4.5" fill="#141414"/>
<rect x="383" y="34.2" width="4.5" height="4.5" fill="#111111"/>
<rect x="387" y="34.2" width="4.5" height="4.5" fill="#0f0f0f"/>
<rect x="391" y="34.2" width="28.5" height="4.5" fill="#0c0c0c"/>
<rect x="299" y="38.2" width="12.5" height="4.5" fill="#4c4c4c"/>
<rect x="311" y="38.2" width="4.5" height="4.5" fill="#494949"/>
<rect x="315" y="38.2" width="4.5" height="4.5" fill="#444444"/>
<rect x="319" y="38.2" width="4.5" height="4.5" fill="#3f3f3f"/>
<rect x="323" y="38.2" width="4.5" height="4.5" fill="#3a3a3a"/>
<rect x="327" y="38.2" width="4.5" height="4.5" fill="#333333"/>
<rect x="331" y="38.2" width="4.5" height="4.5" fill="#2d2d2d"/>
<rect x="335" y="38.2" width="4.5" height="4.5" fill="#2b2b2b"/>
<rect x="339" y="38.2" width="4.5" height="4.5" fill="#282828"/>
<rect x="343" y="38.2" width="8.5" height="4.5" fill="#232323"/>
<rect x="351" y="38.2" width="4.5" height="4.5" fill="#212121"/>
<rect x="355" y="38.2" width="4.5" height="4.5" fill="#1e1e1e"/>
<rect x="359" y="38.2" width="8.5" height="4.5" fill="#1c1c1c"/>
<rect x="367" y="38.2" width="4.5" height="4.5" fill="#191919"/>
<rect x="371" y="38.2" width="4.5" height="4.5" fill="#161616"/>
<rect x="375" y="38.2" width="8.5" height="4.5" fill="#141414"/>
<rect x="383" y="38.2" width="4.5" height="4.5" fill="#111111"/>
<rect x="387" y="38.2" width="4.5" height="4.5" fill="#0f0f0f"/>
<rect x="391" y="38.2" width="28.5" height="4.5" fill="#0c0c0c"/>
<rect x="299" y="42.2" width="8.5" height="4.5" fill="#545454"/>
<rect x="307" y="42.2" width="4.5" height="4.5" fill="#515151"/>
<rect x="311" y="42.2" width="4.5" height="4.5" fill="#4f4f4f"/>
<rect x="315" y="42.2" width="4.5" height="4.5" fill="#4c4c4c"/>
<rect x="319" y="42.2" width="4.5" height="4.5" fill="#494949"/>
<rect x="323" y="42.2" width="4.5" height="4.5" fill="#444444"/>
<rect x="327" y="42.2" width="4.5" height="4.5" fill="#3f3f3f"/>
<rect x="331" y="42.2" width="4.5" height="4.5" fill="#3a3a3a"/>
<rect x="335" y="42.2" width="4.5" height="4.5" fill="#353535"/>
<rect x="339" y="42.2" width="4.5" height="4.5" fill="#303030"/>
<rect x="343" y="42.2" width="4.5" height="4.5" fill="#2d2d2d"/>
<rect x="347" y="42.2" width="4.5" height="4.5" fill="#2b2b2b"/>
<rect x="351" y="42.2" width="4.5" height="4.5" fill="#282828"/>
<rect x="355" y="42.2" width="4.5" height="4.5" fill="#262626"/>
<rect x="359" y="42.2" width="4.5" height="4.5" fill="#232323"/>
<rect x="363" y="42.2" width="4.5" height="4.5" fill="#212121"/>
<rect x="367" y="42.2" width="4.5" height="4.5" fill="#1e1e1e"/>
<rect x="371" y="42.2" width="4.5" height="4.5" fill="#1c1c1c"/>
<rect x="375" y="42.2" width="8.5" height="4.5" fill="#191919"/>
<rect x="383" y="42.2" width="4.5" height="4.5" fill="#161616"/>
<rect x="387" y="42.2" width="4.5" height="4.5" fill="#141414"/>
<rect x="391" y="42.2" width="28.5" height="4.5" fill="#111111"/>
<rect x="299" y="46.2" width="8.5" height="4.5" fill="#5b5b5b"/>
<rect x="307" y="46.2" width="8.5" height="4.5" fill="#595959"/>
<rect x="315" y="46.2" width="4.5" height="4.5" fill="#565656"/>
<rect x="319" y="46.2" width="4.5" height="4.5" fill="#515151"/>
<rect x="323" y="46.2" width="4.5" height="4.5" fill="#4f4f4f"/>
<rect x="327" y="46.2" width="4.5" height="4.5" fill="#494949"/>
<rect x="331" y="46.2" width="4.5" height="4.5" fill="#444444"/>
<rect x="335" y="46.2" width="4.5" height="4.5" fill="#424242"/>
<rect x="339" y="46.2" width="4.5" height="4.5" fill="#3d3d3d"/>
<rect x="343" y="46.2" width="4.5" height="4.5" fill="#383838"/>
<rect x="347" y="46.2" width="4.5" height="4.5" fill="#353535"/>
<rect x="351" y="46.2" width="4.5" height="4.5" fill="#333333"/>
<rect x="355" y="46.2" width="4.5" height="4.5" fill="#2d2d2d"/>
<rect x="359" y="46.2" width="4.5" height="4.5" fill="#2b2b2b"/>
<rect x="363" y="46.2" width="4.5" height="4.5" fill="#282828"/>
<rect x="367" y="46.2" width="4.5" height="4.5" fill="#262626"/>
<rect x="371" y="46.2" width="4.5" height="4.5" fill="#232323"/>
<rect x="375" y="46.2" width="4.5" height="4.5" fill="#212121"/>
<rect x="379" y="46.2" width="4.5" height="4.5" fill="#1e1e1e"/>
<rect x="383" y="46.2" width="4.5" height="4.5" fill="#1c1c1c"/>
<rect x="387" y="46.2" width="12.5" height="4.5" fill="#191919"/>
<rect x="399" y="46.2" width="20.5" height="4.5" fill="#161616"/>
<rect x="299" y="50.2" width="8.5" height="4.5" fill="#666666"/>
<rect x="307" y="50.2" width="4.5" height="4.5" fill="#636363"/>
<rect x="311" y="50.2" width="4.5" height="4.5" fill="#606060"/>
<rect x="315" y="50.2" width="4.5" height="4.5" fill="#5e5e5e"/>
<rect x="319" y="50.2" width="4.5" height="4.5" fill="#5b5b5b"/>
<rect x="323" y="50.2" width="4.5" height="4.5" fill="#595959"/>
<rect x="327" y="50.2" width="4.5" height="4.5" fill="#545454"/>
<rect x="331" y="50.2" width="4.5" height="4.5" fill="#515151"/>
<rect x="335" y="50.2" width="4.5" height="4.5" fill="#4c4c4c"/>
<rect x="339" y="50.2" width="4.5" height="4.5" fill="#494949"/>
<rect x="343" y="50.2" width="4.5" height="4.5" fill="#444444"/>
<rect x="347" y="50.2" width="4.5" height="4.5" fill="#424242"/>
<rect x="351" y="50.2" width="4.5" height="4.5" fill="#3d3d3d"/>
<rect x="355" y="50.2" width="4.5" height="4.5" fill="#3a3a3a"/>
<rect x="359" y="50.2" width="4.5" height="4.5" fill="#353535"/>
<rect x="363" y="50.2" width="4.5" height="4.5" fill="#333333"/>
<rect x="367" y="50.2" width="4.5" height="4.5" fill="#2d2d2d"/>
<rect x="371" y="50.2" width="4.5" height="4.5" fill="#2b2b2b"/>
<rect x="375" y="50.2" width="4.5" height="4.5" fill="#282828"/>
<rect x="379" y="50.2" width="4.5" height="4.5" fill="#262626"/>
<rect x="383" y="50.2" width="4.5" height="4.5" fill="#232323"/>
<rect x="387" y="50.2" width="12.5" height="4.5" fill="#212121"/>
<rect x="399" y="50.2" width="20.5" height="4.5" fill="#1e1e1e"/>
<rect x="299" y="54.2" width="8.5" height="4.5" fill="#707070"/>
<rect x="307" y="54.2" width="4.5" height="4.5" fill="#6d6d6d"/>
<rect x="311" y="54.2" width="4.5" height="4.5" fill="#6b6b6b"/>
<rect x="315" y="54.2" width="4.5" height="4.5" fill="#686868"/>
<rect x="319" y="54.2" width="4.5" height="4.5" fill="#636363"/>
<rect x="323" y="54.2" width="4.5" height="4.5" fill="#606060"/>
<rect x="327" y="54.2" width="4.5" height="4.5" fill="#5e5e5e"/>
<rect x="331" y="54.2" width="4.5" height="4.5" fill="#5b5b5b"/>
<rect x="335" y="54.2" width="4.5" height="4.5" fill="#595959"/>
<rect x="339" y="54.2" width="4.5" height="4.5" fill="#545454"/>
<rect x="343" y="54.2" width="4.5" height="4.5" fill="#515151"/>
<rect x="347" y="54.2" width="4.5" height="4.5" fill="#4c4c4c"/>
<rect x="351" y="54.2" width="4.5" height="4.5" fill="#494949"/>
<rect x="355" y="54.2" width="4.5" height="4.5" fill="#444444"/>
<rect x="359" y="54.2" width="4.5" height="4.5" fill="#3f3f3f"/>
<rect x="363" y="54.2" width="4.5" height="4.5" fill="#3d3d3d"/>
<rect x="367" y="54.2" width="4.5" height="4.5" fill="#383838"/>
<rect x="371" y="54.2" width="4.5" height="4.5" fill="#353535"/>
<rect x="375" y="54.2" width="4.5" height="4.5" fill="#333333"/>
<rect x="379" y="54.2" width="4.5" height="4.5" fill="#303030"/>
<rect x="383" y="54.2" width="8.5" height="4.5" fill="#2d2d2d"/>
<rect x="391" y="54.2" width="28.5" height="4.5" fill="#2b2b2b"/>
<rect x="299" y="58.2" width="8.5" height="4.5" fill="#7a7a7a"/>
<rect x="307" y="58.2" width="4.5" height="4.5" fill="#777777"/>
<rect x="311" y="58.2" width="4.5" height="4.5" fill="#727272"/>
<rect x="315" y="58.2" width="4.5" height="4.5" fill="#707070"/>
<rect x="319" y="58.2" width="4.5" height="4.5" fill="#6d6d6d"/>
<rect x="323" y="58.2" width="4.5" height="4.5" fill="#686868"/>
<rect x="327" y="58.2" width="4.5" height="4.5" fill="#666666"/>
<rect x="331" y="58.2" width="4.5" height="4.5" fill="#636363"/>
<rect x="335" y="58.2" width="4.5" height="4.5" fill="#606060"/>
<rect x="339" y="58.2" width="4.5" height="4.5" fill="#5b5b5b"/>
<rect x="343" y="58.2" width="4.5" height="4.5" fill="#595959"/>
<rect x="347" y="58.2" width="4.5" height="4.5" fill="#545454"/>
<rect x="351" y="58.2" width="4.5" height="4.5" fill="#515151"/>
<rect x="355" y="58.2" width="4.5" height="4.5" fill="#4f4f4f"/>
<rect x="359" y="58.2" width="4.5" height="4.5" fill="#494949"/>
<rect x="363" y="58.2" width="4.5" height="4.5" fill="#474747"/>
<rect x="367" y="58.2" width="4.5" height="4.5" fill="#444444"/>
<rect x="371" y="58.2" width="4.5" height="4.5" fill="#424242"/>
<rect x="375" y="58.2" width="4.5" height="4.5" fill="#3d3d3d"/>
<rect x="379" y="58.2" width="8.5" height="4.5" fill="#3a3a3a"/>
<rect x="387" y="58.2" width="8.5" height="4.5" fill="#383838"/>
<rect x="395" y="58.2" width="24.5" height="4.5" fill="#353535"/>
<rect x="299" y="62.2" width="8.5" height="4.5" fill="#878787"/>
<rect x="307" y="62.2" width="4.5" height="4.5" fill="#828282"/>
<rect x="311" y="62.2" width="4.5" height="4.5" fill="#7c7c7c"/>
<rect x="315" y="62.2" width="4.5" height="4.5" fill="#777777"/>
<rect x="319" y="62.2" width="4.5" height="4.5" fill="#757575"/>
<rect x="323" y="62.2" width="4.5" height="4.5" fill="#707070"/>
<rect x="327" y="62.2" width="4.5" height="4.5" fill="#6b6b6b"/>
<rect x="331" y="62.2" width="4.5" height="4.5" fill="#686868"/>
<rect x="335" y="62.2" width="4.5" height="4.5" fill="#636363"/>
<rect x="339" y="62.2" width="4.5" height="4.5" fill="#606060"/>
<rect x="343" y="62.2" width="4.5" height="4.5" fill="#5e5e5e"/>
<rect x="347" y="62.2" width="4.5" height="4.5" fill="#5b5b5b"/>
<rect x="351" y="62.2" width="4.5" height="4.5" fill="#595959"/>
<rect x="355" y="62.2" width="4.5" height="4.5" fill="#565656"/>
<rect x="359" y="62.2" width="4.5" height="4.5" fill="#545454"/>
<rect x="363" y="62.2" width="4.5" height="4.5" fill="#515151"/>
<rect x="367" y="62.2" width="4.5" height="4.5" fill="#4f4f4f"/>
<rect x="371" y="62.2" width="4.5" height="4.5" fill="#4c4c4c"/>
<rect x="375" y="62.2" width="4.5" height="4.5" fill="#474747"/>
<rect x="379" y="62.2" width="8.5" height="4.5" fill="#444444"/>
<rect x="387" y="62.2" width="8.5" height="4.5" fill="#424242"/>
<rect x="395" y="62.2" width="24.5" height="4.5" fill="#3f3f3f"/>
<rect x="299" y="66.2" width="8.5" height="4.5" fill="#919191"/>
<rect x="307" y="66.2" width="4.5" height="4.5" fill="#8c8c8c"/>
<rect x="311" y="66.2" width="4.5" height="4.5" fill="#878787"/>
<rect x="315" y="66.2" width="4.5" height="4.5" fill="#828282"/>
<rect x="319" y="66.2" width="4.5" height="4.5" fill="#7a7a7a"/>
<rect x="323" y="66.2" width="4.5" height="4.5" fill="#757575"/>
<rect x="327" y="66.2" width="4.5" height="4.5" fill="#707070"/>
<rect x="331" y="66.2" width="4.5" height="4.5" fill="#6d6d6d"/>
<rect x="335" y="66.2" width="4.5" height="4.5" fill="#6b6b6b"/>
<rect x="339" y="66.2" width="4.5" height="4.5" fill="#666666"/>
<rect x="343" y="66.2" width="4.5" height="4.5" fill="#636363"/>
<rect x="347" y="66.2" width="4.5" height="4.5" fill="#606060"/>
<rect x="351" y="66.2" width="4.5" height="4.5" fill="#5e5e5e"/>
<rect x="355" y="66.2" width="4.5" height="4.5" fill="#5b5b5b"/>
<rect x="359" y="66.2" width="4.5" height="4.5" fill="#595959"/>
<rect x="363" y="66.2" width="4.5" height="4.5" fill="#565656"/>
<rect x="367" y="66.2" width="8.5" height="4.5" fill="#545454"/>
<rect x="375" y="66.2" width="4.5" height="4.5" fill="#515151"/>
<rect x="379" y="66.2" width="4.5" height="4.5" fill="#4f4f4f"/>
<rect x="383" y="66.2" width="4.5" height="4.5" fill="#4c4c4c"/>
<rect x="387" y="66.2" width="12.5" height="4.5" fill="#494949"/>
<rect x="399" y="66.2" width="20.5" height="4.5" fill="#474747"/>
<rect x="299" y="70.2" width="8.5" height="4.5" fill="#9b9b9b"/>
<rect x="307" y="70.2" width="4.5" height="4.5" fill="#969696"/>
<rect x="311" y="70.2" width="4.5" height="4.5" fill="#919191"/>
<rect x="315" y="70.2" width="4.5" height="4.5" fill="#8c8c8c"/>
<rect x="319" y="70.2" width="4.5" height="4.5" fill="#848484"/>
<rect x="323" y="70.2" width="4.5" height="4.5" fill="#7c7c7c"/>
<rect x="327" y="70.2" width="4.5" height="4.5" fill="#777777"/>
<rect x="331" y="70.2" width="4.5" height="4.5" fill="#727272"/>
<rect x="335" y="70.2" width="4.5" height="4.5" fill="#707070"/>
<rect x="339" y="70.2" width="4.5" height="4.5" fill="#6b6b6b"/>
<rect x="343" y="70.2" width="4.5" height="4.5" fill="#686868"/>
<rect x="347" y="70.2" width="4.5" height="4.5" fill="#666666"/>
<rect x="351" y="70.2" width="4.5" height="4.5" fill="#636363"/>
<rect x="355" y="70.2" width="4.5" height="4.5" fill="#606060"/>
<rect x="359" y="70.2" width="4.5" height="4.5" fill="#5e5e5e"/>
<rect x="363" y="70.2" width="8.5" height="4.5" fill="#5b5b5b"/>
<rect x="371" y="70.2" width="4.5" height="4.5" fill="#595959"/>
<rect x="375" y="70.2" width="4.5" height="4.5" fill="#565656"/>
<rect x="379" y="70.2" width="8.5" height="4.5" fill="#545454"/>
<rect x="387" y="70.2" width="12.5" height="4.5" fill="#515151"/>
<rect x="399" y="70.2" width="20.5" height="4.5" fill="#4f4f4f"/>
<rect x="299" y="74.2" width="8.5" height="4.5" fill="#a3a3a3"/>
<rect x="307" y="74.2" width="4.5" height="4.5" fill="#a0a0a0"/>
<rect x="311" y="74.2" width="4.5" height="4.5" fill="#9b9b9b"/>
<rect x="315" y="74.2" width="4.5" height="4.5" fill="#969696"/>
<rect x="319" y="74.2" width="4.5" height="4.5" fill="#8e8e8e"/>
<rect x="323" y="74.2" width="4.5" height="4.5" fill="#878787"/>
<rect x="327" y="74.2" width="4.5" height="4.5" fill="#828282"/>
<rect x="331" y="74.2" width="4.5" height="4.5" fill="#7a7a7a"/>
<rect x="335" y="74.2" width="4.5" height="4.5" fill="#757575"/>
<rect x="339" y="74.2" width="4.5" height="4.5" fill="#707070"/>
<rect x="343" y="74.2" width="4.5" height="4.5" fill="#6b6b6b"/>
<rect x="347" y="74.2" width="4.5" height="4.5" fill="#686868"/>
<rect x="351" y="74.2" width="8.5" height="4.5" fill="#666666"/>
<rect x="359" y="74.2" width="4.5" height="4.5" fill="#636363"/>
<rect x="363" y="74.2" width="4.5" height="4.5" fill="#606060"/>
<rect x="367" y="74.2" width="8.5" height="4.5" fill="#5e5e5e"/>
<rect x="375" y="74.2" width="8.5" height="4.5" fill="#5b5b5b"/>
<rect x="383" y="74.2" width="12.5" height="4.5" fill="#595959"/>
<rect x="395" y="74.2" width="24.5" height="4.5" fill="#565656"/>
<rect x="299" y="78.2" width="8.5" height="4.5" fill="#aaaaaa"/>
<rect x="307" y="78.2" width="4.5" height="4.5" fill="#a8a8a8"/>
<rect x="311" y="78.2" width="4.5" height="4.5" fill="#a5a5a5"/>
<rect x="315" y="78.2" width="4.5" height="4.5" fill="#a0a0a0"/>
<rect x="319" y="78.2" width="4.5" height="4.5" fill="#9b9b9b"/>
<rect x="323" y="78.2" width="4.5" height="4.5" fill="#939393"/>
<rect x="327" y="78.2" width="4.5" height="4.5" fill="#8c8c8c"/>
<rect x="331" y="78.2" width="4.5" height="4.5" fill="#828282"/>
<rect x="335" y="78.2" width="4.5" height="4.5" fill="#7c7c7c"/>
<rect x="339" y="78.2" width="4.5" height="4.5" fill="#757575"/>
<rect x="343" y="78.2" width="4.5" height="4.5" fill="#727272"/>
<rect x="347" y="78.2" width="4.5" height="4.5" fill="#6d6d6d"/>
<rect x="351" y="78.2" width="4.5" height="4.5" fill="#6b6b6b"/>
<rect x="355" y="78.2" width="4.5" height="4.5" fill="#686868"/>
<rect x="359" y="78.2" width="4.5" height="4.5" fill="#666666"/>
<rect x="363" y="78.2" width="8.5" height="4.5" fill="#636363"/>
<rect x="371" y="78.2" width="12.5" height="4.5" fill="#606060"/>
<rect x="383" y="78.2" width="12.5" height="4.5" fill="#5e5e5e"/>
<rect x="395" y="78.2" width="24.5" height="4.5" fill="#5b5b5b"/>
<rect x="299" y="82.2" width="12.5" height="4.5" fill="#afafaf"/>
<rect x="311" y="82.2" width="4.5" height="4.5" fill="#adadad"/>
<rect x="315" y="82.2" width="4.5" height="4.5" fill="#aaaaaa"/>
<rect x="319" y="82.2" width="4.5" height="4.5" fill="#a5a5a5"/>
<rect x="323" y="82.2" width="4.5" height="4.5" fill="#a0a0a0"/>
<rect x="327" y="82.2" width="4.5" height="4.5" fill="#999999"/>
<rect x="331" y="82.2" width="4.5" height="4.5" fill="#919191"/>
<rect x="335" y="82.2" width="4.5" height="4.5" fill="#898989"/>
<rect x="339" y="82.2" width="4.5" height="4.5" fill="#828282"/>
<rect x="343" y="82.2" width="4.5" height="4.5" fill="#7a7a7a"/>
<rect x="347" y="82.2" width="4.5" height="4.5" fill="#757575"/>
<rect x="351" y="82.2" width="4.5" height="4.5" fill="#727272"/>
<rect x="355" y="82.2" width="4.5" height="4.5" fill="#6d6d6d"/>
<rect x="359" y="82.2" width="4.5" height="4.5" fill="#6b6b6b"/>
<rect x="363" y="82.2" width="4.5" height="4.5" fill="#686868"/>
<rect x="367" y="82.2" width="8.5" height="4.5" fill="#666666"/>
<rect x="375" y="82.2" width="12.5" height="4.5" fill="#636363"/>
<rect x="387" y="82.2" width="12.5" height="4.5" fill="#606060"/>
<rect x="399" y="82.2" width="20.5" height="4.5" fill="#5e5e5e"/>
<rect x="299" y="86.2" width="20.5" height="4.5" fill="#b2b2b2"/>
<rect x="319" y="86.2" width="4.5" height="4.5" fill="#afafaf"/>
<rect x="323" y="86.2" width="4.5" height="4.5" fill="#adadad"/>
<rect x="327" y="86.2" width="4.5" height="4.5" fill="#a8a8a8"/>
<rect x="331" y="86.2" width="4.5" height="4.5" fill="#9e9e9e"/>
<rect x="335" y="86.2" width="4.5" height="4.5" fill="#969696"/>
<rect x="339" y="86.2" width="4.5" height="4.5" fill="#8e8e8e"/>
<rect x="343" y="86.2" width="4.5" height="4.5" fill="#848484"/>
<rect x="347" y="86.2" width="4.5" height="4.5" fill="#7f7f7f"/>
<rect x="351" y="86.2" width="4.5" height="4.5" fill="#777777"/>
<rect x="355" y="86.2" width="4.5" height="4.5" fill="#727272"/>
<rect x="359" y="86.2" width="4.5" height="4.5" fill="#707070"/>
<rect x="363" y="86.2" width="8.5" height="4.5" fill="#6b6b6b"/>
<rect x="371" y="86.2" width="12.5" height="4.5" fill="#686868"/>
<rect x="383" y="86.2" width="4.5" height="4.5" fill="#666666"/>
<rect x="387" y="86.2" width="12.5" height="4.5" fill="#636363"/>
<rect x="399" y="86.2" width="20.5" height="4.5" fill="#606060"/>
<rect x="299" y="90.2" width="8.5" height="4.5" fill="#b2b2b2"/>
<rect x="307" y="90.2" width="20.5" height="4.5" fill="#b5b5b5"/>
<rect x="327" y="90.2" width="4.5" height="4.5" fill="#afafaf"/>
<rect x="331" y="90.2" width="4.5" height="4.5" fill="#a8a8a8"/>
<rect x="335" y="90.2" width="4.5" height="4.5" fill="#a0a0a0"/>
<rect x="339" y="90.2" width="4.5" height="4.5" fill="#999999"/>
<rect x="343" y="90.2" width="4.5" height="4.5" fill="#8e8e8e"/>
<rect x="347" y="90.2" width="4.5" height="4.5" fill="#878787"/>
<rect x="351" y="90.2" width="4.5" height="4.5" fill="#7f7f7f"/>
<rect x="355" y="90.2" width="4.5" height="4.5" fill="#777777"/>
<rect x="359" y="90.2" width="4.5" height="4.5" fill="#727272"/>
<rect x="363" y="90.2" width="4.5" height="4.5" fill="#707070"/>
<rect x="367" y="90.2" width="8.5" height="4.5" fill="#6d6d6d"/>
<rect x="375" y="90.2" width="8.5" height="4.5" fill="#6b6b6b"/>
<rect x="383" y="90.2" width="4.5" height="4.5" fill="#686868"/>
<rect x="387" y="90.2" width="8.5" height="4.5" fill="#666666"/>
<rect x="395" y="90.2" width="24.5" height="4.5" fill="#636363"/>
<rect x="299" y="94.2" width="8.5" height="4.5" fill="#b2b2b2"/>
<rect x="307" y="94.2" width="8.5" height="4.5" fill="#b5b5b5"/>
<rect x="315" y="94.2" width="12.5" height="4.5" fill="#b7b7b7"/>
<rect x="327" y="94.2" width="4.5" height="4.5" fill="#b5b5b5"/>
<rect x="331" y="94.2" width="4.5" height="4.5" fill="#afafaf"/>
<rect x="335" y="94.2" width="4.5" height="4.5" fill="#a8a8a8"/>
<rect x="339" y="94.2" width="4.5" height="4.5" fill="#a0a0a0"/>
<rect x="343" y="94.2" width="4.5" height="4.5" fill="#969696"/>
<rect x="347" y="94.2" width="4.5" height="4.5" fill="#8e8e8e"/>
<rect x="351" y="94.2" width="4.5" height="4.5" fill="#848484"/>
<rect x="355" y="94.2" width="4.5" height="4.5" fill="#7f7f7f"/>
<rect x="359" y="94.2" width="4.5" height="4.5" fill="#777777"/>
<rect x="363" y="94.2" width="4.5" height="4.5" fill="#757575"/>
<rect x="367" y="94.2" width="8.5" height="4.5" fill="#707070"/>
<rect x="375" y="94.2" width="4.5" height="4.5" fill="#6d6d6d"/>
<rect x="379" y="94.2" width="8.5" height="4.5" fill="#6b6b6b"/>
<rect x="387" y="94.2" width="4.5" height="4.5" fill="#686868"/>
<rect x="391" y="94.2" width="28.5" height="4.5" fill="#666666"/>
<rect x="299" y="98.2" width="8.5" height="4.5" fill="#b2b2b2"/>
<rect x="307" y="98.2" width="4.5" height="4.5" fill="#b5b5b5"/>
<rect x="311" y="98.2" width="16.5" height="4.5" fill="#b7b7b7"/>
<rect x="327" y="98.2" width="4.5" height="4.5" fill="#b5b5b5"/>
<rect x="331" y="98.2" width="4.5" height="4.5" fill="#afafaf"/>
<rect x="335" y="98.2" width="4.5" height="4.5" fill="#aaaaaa"/>
<rect x="339" y="98.2" width="4.5" height="4.5" fill="#a0a0a0"/>
<rect x="343" y="98.2" width="4.5" height="4.5" fill="#999999"/>
<rect x="347" y="98.2" width="4.5" height="4.5" fill="#8e8e8e"/>
<rect x="351" y="98.2" width="4.5" height="4.5" fill="#878787"/>
<rect x="355" y="98.2" width="4.5" height="4.5" fill="#7f7f7f"/>
<rect x="359" y="98.2" width="4.5" height="4.5" fill="#7a7a7a"/>
<rect x="363" y="98.2" width="4.5" height="4.5" fill="#757575"/>
<rect x="367" y="98.2" width="4.5" height="4.5" fill="#727272"/>
<rect x="371" y="98.2" width="4.5" height="4.5" fill="#707070"/>
<rect x="375" y="98.2" width="8.5" height="4.5" fill="#6d6d6d"/>
<rect x="383" y="98.2" width="4.5" height="4.5" fill="#6b6b6b"/>
<rect x="387" y="98.2" width="4.5" height="4.5" fill="#686868"/>
<rect x="391" y="98.2" width="28.5" height="4.5" fill="#666666"/>
<rect x="299" y="102.2" width="8.5" height="4.5" fill="#b2b2b2"/>
<rect x="307" y="102.2" width="4.5" height="4.5" fill="#b5b5b5"/>
<rect x="311" y="102.2" width="16.5" height="4.5" fill="#b7b7b7"/>
<rect x="327" y="102.2" width="4.5" height="4.5" fill="#b5b5b5"/>
<rect x="331" y="102.2" width="4.5" height="4.5" fill="#afafaf"/>
<rect x="335" y="102.2" width="4.5" height="4.5" fill="#aaaaaa"/>
<rect x="339" y="102.2" width="4.5" height="4.5" fill="#a0a0a0"/>
<rect x="343" y="102.2" width="4.5" height="4.5" fill="#999999"/>
<rect x="347" y="102.2" width="4.5" height="4.5" fill="#8e8e8e"/>
<rect x="351" y="102.2" width="4.5" height="4.5" fill="#878787"/>
<rect x="355" y="102.2" width="4.5" height="4.5" fill="#7f7f7f"/>
<rect x="359" y="102.2" width="4.5" height="4.5" fill="#7a7a7a"/>
<rect x="363" y="102.2" width="4.5" height="4.5" fill="#757575"/>
<rect x="367" y="102.2" width="4.5" height="4.5" fill="#727272"/>
<rect x="371" y="102.2" width="4.5" height="4.5" fill="#707070"/>
<rect x="375" y="102.2" width="8.5" height="4.5" fill="#6d6d6d"/>
<rect x="383" y="102.2" width="4.5" height="4.5" fill="#6b6b6b"/>
<rect x="387" y="102.2" width="4.5" height="4.5" fill="#686868"/>
<rect x="391" y="102.2" width="28.5" height="4.5" fill="#666666"/>
</g></g>
<rect x="271.8" y="25.7" width="214.4" height="112.5" fill="none" stroke="#9c9c9c" stroke-width="0.7"/>
<path d="M295.4 138.2v-2.2M295.4 25.7v2.2M343.1 138.2v-2.2M343.1 25.7v2.2M390.9 138.2v-2.2M390.9 25.7v2.2M438.6 138.2v-2.2M438.6 25.7v2.2M271.8 39.9h2.2M486.2 39.9h-2.2M271.8 60.3h2.2M486.2 60.3h-2.2M271.8 80.8h2.2M486.2 80.8h-2.2M271.8 101.2h2.2M486.2 101.2h-2.2M271.8 121.7h2.2M486.2 121.7h-2.2" stroke="#9c9c9c" stroke-width="0.7" fill="none"/>
<path d="M280.9 50.3H435M280.9 60.5H435M280.9 81H435" stroke="#0a0a0a" stroke-width="1.1" stroke-dasharray="4.1 2.2" fill="none"/>
<path d="M271.8 41.9H295.4V97.8M419.8 97.8V41.9H486.2" stroke="#383838" stroke-width="1.3" fill="none"/>
<path d="M333.5 40.5L456 51.5M447.1 51.6L456 51.5L448 49.8M358 40.5L457 61M447.7 60.2L457 61L449.7 58.4M383 40.5L458 60.5M448.5 59.2L458 60.5L451.1 57.4M410.5 41L453.5 59.7M443.7 57.1L453.5 59.7L447.7 55.5M410.5 50L439.8 75M430.1 70.2L439.8 75L436.6 68.8M410.5 60L439.8 99.8M430.8 93.5L439.8 99.8L438.8 92.4M410.5 71L422.8 104.4M415.2 96.7L422.8 104.4L424.5 96.1M410.5 81L415 109M408.8 100.8L415 109L418.6 100.5M410.5 91L410.5 116.8M405.5 108.3L410.5 116.8L415.5 108.3M410.5 97.7L409.9 121.4M405.5 113.6L409.9 121.4L414.7 113.6M358 50.2L440 75M430.4 73.4L440 75L433.3 71.7M305 40.5L307 38M306.8 38.9L307 38L305.9 38.8M303.5 57.5L305 59.5M304.1 58.9L305 59.5L304.9 58.8M301 67.5L304.8 70.6M302.9 69.7L304.8 70.6L304.1 69.4M333.4 70.4L326.4 68.7M329 69L326.4 68.7L328.4 69.5M357.5 71L355 64.5M357.1 66.6L355 64.5L354.6 66.7M358 80.5L352 77M354.7 77.9L352 77L353.3 78.4M362 52L367 54M365 53.5L367 54L365.7 53.2M305.7 80.4L297 81.3M299.7 80.7L297 81.3L300 81.3M304.8 90.7L296.3 92.4M298.8 91.5L296.3 92.4L299.4 92.1M304.8 97.5L293.7 98.4M297.2 97.7L293.7 98.4L297.5 98.5M334 90.7L320.2 96.7M323.6 94.2L320.2 96.7L325.9 95.2M333 97.5L316 105.2M320.1 102.1L316 105.2L323.1 103.3M357 91L350 90.3M352.4 90.3L350 90.3L352.2 90.8M357 97L348 100M350.4 98.7L348 100L351.5 99.3M381 97L379.6 100.4M379.4 99.2L379.6 100.4L380.7 99.3M381.5 71L383 72.5M382.2 72.1L383 72.5L382.8 72M381.5 81L382.5 82M382 81.7L382.5 82L382.4 81.6" fill="none" stroke="#141414" stroke-width="0.6" stroke-linejoin="miter"/>
<path d="M63.1 41.6C66 40.6 69 40 72 40C77 40 82 40.6 86 41.8C91 43.3 96 45.8 101 48.4C109 52.4 118 55.4 127 58C134 60 141.5 62 146.5 65.5C150 68 152 71.5 152 75C152 79 149.5 82.5 145 84.8C140.5 87 134.5 87.6 129.5 87C122 86.2 115.5 84.2 108.5 82.6C102.5 81.2 96.5 80.8 90 81.3C82.5 81.9 76.5 83 71.5 84.4C68.5 85.3 66 86.1 63.5 86.6" transform="translate(234.5 0)" stroke="#951295" stroke-width="1.5" fill="none" stroke-linecap="round"/>
<text x="436.7" y="53" class="ser" textLength="45" lengthAdjust="spacingAndGlyphs"><tspan font-style="italic">y</tspan> = 0.72 m</text>
<text x="436.7" y="63.2" class="ser" textLength="45" lengthAdjust="spacingAndGlyphs"><tspan font-style="italic">y</tspan> = 0.77 m</text>
<text x="436.7" y="83.7" class="ser" textLength="45" lengthAdjust="spacingAndGlyphs"><tspan font-style="italic">y</tspan> = 0.87 m</text>
<text x="483.3" y="33.3" class="bold" text-anchor="end">b)</text>
<path d="M295.4 122.8L295.4 131.2M293.8 128.4L295.4 131.2L297 128.4" fill="none" stroke="#333" stroke-width="0.7"/>
<text x="297.9" y="129.5" class="sc">0.10 ms<tspan dy="-3.9" font-size="7">-1</tspan></text>
<g clip-path="url(#hcc)"><g filter="url(#jet)">
<rect x="64.5" y="153.8" width="8.5" height="4.5" fill="#262626"/>
<rect x="72.5" y="153.8" width="4.5" height="4.5" fill="#232323"/>
<rect x="76.5" y="153.8" width="4.5" height="4.5" fill="#212121"/>
<rect x="80.5" y="153.8" width="4.5" height="4.5" fill="#1c1c1c"/>
<rect x="84.5" y="153.8" width="4.5" height="4.5" fill="#191919"/>
<rect x="88.5" y="153.8" width="4.5" height="4.5" fill="#141414"/>
<rect x="92.5" y="153.8" width="4.5" height="4.5" fill="#111111"/>
<rect x="96.5" y="153.8" width="4.5" height="4.5" fill="#0f0f0f"/>
<rect x="100.5" y="153.8" width="4.5" height="4.5" fill="#0c0c0c"/>
<rect x="104.5" y="153.8" width="4.5" height="4.5" fill="#0a0a0a"/>
<rect x="108.5" y="153.8" width="12.5" height="4.5" fill="#070707"/>
<rect x="120.5" y="153.8" width="4.5" height="4.5" fill="#0c0c0c"/>
<rect x="124.5" y="153.8" width="4.5" height="4.5" fill="#1e1e1e"/>
<rect x="128.5" y="153.8" width="4.5" height="4.5" fill="#353535"/>
<rect x="132.5" y="153.8" width="4.5" height="4.5" fill="#494949"/>
<rect x="136.5" y="153.8" width="4.5" height="4.5" fill="#545454"/>
<rect x="140.5" y="153.8" width="4.5" height="4.5" fill="#5b5b5b"/>
<rect x="144.5" y="153.8" width="4.5" height="4.5" fill="#636363"/>
<rect x="148.5" y="153.8" width="4.5" height="4.5" fill="#686868"/>
<rect x="152.5" y="153.8" width="4.5" height="4.5" fill="#6d6d6d"/>
<rect x="156.5" y="153.8" width="4.5" height="4.5" fill="#757575"/>
<rect x="160.5" y="153.8" width="4.5" height="4.5" fill="#7c7c7c"/>
<rect x="164.5" y="153.8" width="4.5" height="4.5" fill="#828282"/>
<rect x="168.5" y="153.8" width="16.5" height="4.5" fill="#848484"/>
<rect x="64.5" y="157.8" width="8.5" height="4.5" fill="#262626"/>
<rect x="72.5" y="157.8" width="4.5" height="4.5" fill="#232323"/>
<rect x="76.5" y="157.8" width="4.5" height="4.5" fill="#212121"/>
<rect x="80.5" y="157.8" width="4.5" height="4.5" fill="#1c1c1c"/>
<rect x="84.5" y="157.8" width="4.5" height="4.5" fill="#191919"/>
<rect x="88.5" y="157.8" width="4.5" height="4.5" fill="#141414"/>
<rect x="92.5" y="157.8" width="4.5" height="4.5" fill="#111111"/>
<rect x="96.5" y="157.8" width="4.5" height="4.5" fill="#0f0f0f"/>
<rect x="100.5" y="157.8" width="4.5" height="4.5" fill="#0c0c0c"/>
<rect x="104.5" y="157.8" width="4.5" height="4.5" fill="#0a0a0a"/>
<rect x="108.5" y="157.8" width="12.5" height="4.5" fill="#070707"/>
<rect x="120.5" y="157.8" width="4.5" height="4.5" fill="#0c0c0c"/>
<rect x="124.5" y="157.8" width="4.5" height="4.5" fill="#1e1e1e"/>
<rect x="128.5" y="157.8" width="4.5" height="4.5" fill="#353535"/>
<rect x="132.5" y="157.8" width="4.5" height="4.5" fill="#494949"/>
<rect x="136.5" y="157.8" width="4.5" height="4.5" fill="#545454"/>
<rect x="140.5" y="157.8" width="4.5" height="4.5" fill="#5b5b5b"/>
<rect x="144.5" y="157.8" width="4.5" height="4.5" fill="#636363"/>
<rect x="148.5" y="157.8" width="4.5" height="4.5" fill="#686868"/>
<rect x="152.5" y="157.8" width="4.5" height="4.5" fill="#6d6d6d"/>
<rect x="156.5" y="157.8" width="4.5" height="4.5" fill="#757575"/>
<rect x="160.5" y="157.8" width="4.5" height="4.5" fill="#7c7c7c"/>
<rect x="164.5" y="157.8" width="4.5" height="4.5" fill="#828282"/>
<rect x="168.5" y="157.8" width="16.5" height="4.5" fill="#848484"/>
<rect x="64.5" y="161.8" width="12.5" height="4.5" fill="#515151"/>
<rect x="76.5" y="161.8" width="4.5" height="4.5" fill="#4f4f4f"/>
<rect x="80.5" y="161.8" width="4.5" height="4.5" fill="#4c4c4c"/>
<rect x="84.5" y="161.8" width="4.5" height="4.5" fill="#474747"/>
<rect x="88.5" y="161.8" width="4.5" height="4.5" fill="#424242"/>
<rect x="92.5" y="161.8" width="8.5" height="4.5" fill="#3f3f3f"/>
<rect x="100.5" y="161.8" width="4.5" height="4.5" fill="#3d3d3d"/>
<rect x="104.5" y="161.8" width="4.5" height="4.5" fill="#383838"/>
<rect x="108.5" y="161.8" width="12.5" height="4.5" fill="#353535"/>
<rect x="120.5" y="161.8" width="4.5" height="4.5" fill="#3a3a3a"/>
<rect x="124.5" y="161.8" width="4.5" height="4.5" fill="#424242"/>
<rect x="128.5" y="161.8" width="4.5" height="4.5" fill="#4f4f4f"/>
<rect x="132.5" y="161.8" width="4.5" height="4.5" fill="#595959"/>
<rect x="136.5" y="161.8" width="4.5" height="4.5" fill="#5e5e5e"/>
<rect x="140.5" y="161.8" width="4.5" height="4.5" fill="#636363"/>
<rect x="144.5" y="161.8" width="4.5" height="4.5" fill="#666666"/>
<rect x="148.5" y="161.8" width="4.5" height="4.5" fill="#6b6b6b"/>
<rect x="152.5" y="161.8" width="4.5" height="4.5" fill="#707070"/>
<rect x="156.5" y="161.8" width="4.5" height="4.5" fill="#757575"/>
<rect x="160.5" y="161.8" width="4.5" height="4.5" fill="#7c7c7c"/>
<rect x="164.5" y="161.8" width="4.5" height="4.5" fill="#7f7f7f"/>
<rect x="168.5" y="161.8" width="16.5" height="4.5" fill="#848484"/>
<rect x="64.5" y="165.8" width="16.5" height="4.5" fill="#686868"/>
<rect x="80.5" y="165.8" width="4.5" height="4.5" fill="#666666"/>
<rect x="84.5" y="165.8" width="4.5" height="4.5" fill="#636363"/>
<rect x="88.5" y="165.8" width="4.5" height="4.5" fill="#606060"/>
<rect x="92.5" y="165.8" width="8.5" height="4.5" fill="#5e5e5e"/>
<rect x="100.5" y="165.8" width="4.5" height="4.5" fill="#5b5b5b"/>
<rect x="104.5" y="165.8" width="4.5" height="4.5" fill="#595959"/>
<rect x="108.5" y="165.8" width="12.5" height="4.5" fill="#565656"/>
<rect x="120.5" y="165.8" width="4.5" height="4.5" fill="#595959"/>
<rect x="124.5" y="165.8" width="4.5" height="4.5" fill="#5b5b5b"/>
<rect x="128.5" y="165.8" width="4.5" height="4.5" fill="#5e5e5e"/>
<rect x="132.5" y="165.8" width="4.5" height="4.5" fill="#606060"/>
<rect x="136.5" y="165.8" width="4.5" height="4.5" fill="#666666"/>
<rect x="140.5" y="165.8" width="4.5" height="4.5" fill="#686868"/>
<rect x="144.5" y="165.8" width="4.5" height="4.5" fill="#6b6b6b"/>
<rect x="148.5" y="165.8" width="4.5" height="4.5" fill="#6d6d6d"/>
<rect x="152.5" y="165.8" width="4.5" height="4.5" fill="#707070"/>
<rect x="156.5" y="165.8" width="4.5" height="4.5" fill="#777777"/>
<rect x="160.5" y="165.8" width="4.5" height="4.5" fill="#7c7c7c"/>
<rect x="164.5" y="165.8" width="4.5" height="4.5" fill="#828282"/>
<rect x="168.5" y="165.8" width="4.5" height="4.5" fill="#848484"/>
<rect x="172.5" y="165.8" width="12.5" height="4.5" fill="#878787"/>
<rect x="64.5" y="169.8" width="20.5" height="4.5" fill="#757575"/>
<rect x="84.5" y="169.8" width="12.5" height="4.5" fill="#727272"/>
<rect x="96.5" y="169.8" width="8.5" height="4.5" fill="#707070"/>
<rect x="104.5" y="169.8" width="4.5" height="4.5" fill="#6d6d6d"/>
<rect x="108.5" y="169.8" width="8.5" height="4.5" fill="#6b6b6b"/>
<rect x="116.5" y="169.8" width="8.5" height="4.5" fill="#686868"/>
<rect x="124.5" y="169.8" width="12.5" height="4.5" fill="#666666"/>
<rect x="136.5" y="169.8" width="4.5" height="4.5" fill="#686868"/>
<rect x="140.5" y="169.8" width="4.5" height="4.5" fill="#6b6b6b"/>
<rect x="144.5" y="169.8" width="4.5" height="4.5" fill="#6d6d6d"/>
<rect x="148.5" y="169.8" width="4.5" height="4.5" fill="#707070"/>
<rect x="152.5" y="169.8" width="4.5" height="4.5" fill="#727272"/>
<rect x="156.5" y="169.8" width="4.5" height="4.5" fill="#777777"/>
<rect x="160.5" y="169.8" width="4.5" height="4.5" fill="#7f7f7f"/>
<rect x="164.5" y="169.8" width="4.5" height="4.5" fill="#848484"/>
<rect x="168.5" y="169.8" width="4.5" height="4.5" fill="#878787"/>
<rect x="172.5" y="169.8" width="12.5" height="4.5" fill="#898989"/>
<rect x="64.5" y="173.8" width="8.5" height="4.5" fill="#7c7c7c"/>
<rect x="72.5" y="173.8" width="8.5" height="4.5" fill="#7f7f7f"/>
<rect x="80.5" y="173.8" width="4.5" height="4.5" fill="#828282"/>
<rect x="84.5" y="173.8" width="16.5" height="4.5" fill="#7f7f7f"/>
<rect x="100.5" y="173.8" width="4.5" height="4.5" fill="#7c7c7c"/>
<rect x="104.5" y="173.8" width="4.5" height="4.5" fill="#7a7a7a"/>
<rect x="108.5" y="173.8" width="4.5" height="4.5" fill="#777777"/>
<rect x="112.5" y="173.8" width="4.5" height="4.5" fill="#757575"/>
<rect x="116.5" y="173.8" width="4.5" height="4.5" fill="#727272"/>
<rect x="120.5" y="173.8" width="4.5" height="4.5" fill="#6d6d6d"/>
<rect x="124.5" y="173.8" width="4.5" height="4.5" fill="#6b6b6b"/>
<rect x="128.5" y="173.8" width="12.5" height="4.5" fill="#686868"/>
<rect x="140.5" y="173.8" width="4.5" height="4.5" fill="#6b6b6b"/>
<rect x="144.5" y="173.8" width="4.5" height="4.5" fill="#6d6d6d"/>
<rect x="148.5" y="173.8" width="4.5" height="4.5" fill="#707070"/>
<rect x="152.5" y="173.8" width="4.5" height="4.5" fill="#757575"/>
<rect x="156.5" y="173.8" width="4.5" height="4.5" fill="#7a7a7a"/>
<rect x="160.5" y="173.8" width="4.5" height="4.5" fill="#828282"/>
<rect x="164.5" y="173.8" width="4.5" height="4.5" fill="#878787"/>
<rect x="168.5" y="173.8" width="4.5" height="4.5" fill="#8c8c8c"/>
<rect x="172.5" y="173.8" width="12.5" height="4.5" fill="#8e8e8e"/>
<rect x="64.5" y="177.8" width="8.5" height="4.5" fill="#878787"/>
<rect x="72.5" y="177.8" width="4.5" height="4.5" fill="#898989"/>
<rect x="76.5" y="177.8" width="4.5" height="4.5" fill="#8c8c8c"/>
<rect x="80.5" y="177.8" width="4.5" height="4.5" fill="#8e8e8e"/>
<rect x="84.5" y="177.8" width="12.5" height="4.5" fill="#919191"/>
<rect x="96.5" y="177.8" width="4.5" height="4.5" fill="#8e8e8e"/>
<rect x="100.5" y="177.8" width="4.5" height="4.5" fill="#8c8c8c"/>
<rect x="104.5" y="177.8" width="4.5" height="4.5" fill="#898989"/>
<rect x="108.5" y="177.8" width="4.5" height="4.5" fill="#878787"/>
<rect x="112.5" y="177.8" width="4.5" height="4.5" fill="#828282"/>
<rect x="116.5" y="177.8" width="4.5" height="4.5" fill="#7c7c7c"/>
<rect x="120.5" y="177.8" width="4.5" height="4.5" fill="#777777"/>
<rect x="124.5" y="177.8" width="4.5" height="4.5" fill="#727272"/>
<rect x="128.5" y="177.8" width="4.5" height="4.5" fill="#6b6b6b"/>
<rect x="132.5" y="177.8" width="12.5" height="4.5" fill="#686868"/>
<rect x="144.5" y="177.8" width="4.5" height="4.5" fill="#6b6b6b"/>
<rect x="148.5" y="177.8" width="4.5" height="4.5" fill="#707070"/>
<rect x="152.5" y="177.8" width="4.5" height="4.5" fill="#757575"/>
<rect x="156.5" y="177.8" width="4.5" height="4.5" fill="#7c7c7c"/>
<rect x="160.5" y="177.8" width="4.5" height="4.5" fill="#848484"/>
<rect x="164.5" y="177.8" width="4.5" height="4.5" fill="#8c8c8c"/>
<rect x="168.5" y="177.8" width="4.5" height="4.5" fill="#919191"/>
<rect x="172.5" y="177.8" width="4.5" height="4.5" fill="#939393"/>
<rect x="176.5" y="177.8" width="8.5" height="4.5" fill="#969696"/>
<rect x="64.5" y="181.8" width="8.5" height="4.5" fill="#919191"/>
<rect x="72.5" y="181.8" width="4.5" height="4.5" fill="#969696"/>
<rect x="76.5" y="181.8" width="4.5" height="4.5" fill="#9b9b9b"/>
<rect x="80.5" y="181.8" width="4.5" height="4.5" fill="#9e9e9e"/>
<rect x="84.5" y="181.8" width="4.5" height="4.5" fill="#a3a3a3"/>
<rect x="88.5" y="181.8" width="12.5" height="4.5" fill="#a8a8a8"/>
<rect x="100.5" y="181.8" width="4.5" height="4.5" fill="#a5a5a5"/>
<rect x="104.5" y="181.8" width="4.5" height="4.5" fill="#a0a0a0"/>
<rect x="108.5" y="181.8" width="4.5" height="4.5" fill="#9b9b9b"/>
<rect x="112.5" y="181.8" width="4.5" height="4.5" fill="#939393"/>
<rect x="116.5" y="181.8" width="4.5" height="4.5" fill="#8c8c8c"/>
<rect x="120.5" y="181.8" width="4.5" height="4.5" fill="#848484"/>
<rect x="124.5" y="181.8" width="4.5" height="4.5" fill="#7a7a7a"/>
<rect x="128.5" y="181.8" width="4.5" height="4.5" fill="#727272"/>
<rect x="132.5" y="181.8" width="4.5" height="4.5" fill="#6b6b6b"/>
<rect x="136.5" y="181.8" width="4.5" height="4.5" fill="#666666"/>
<rect x="140.5" y="181.8" width="4.5" height="4.5" fill="#636363"/>
<rect x="144.5" y="181.8" width="4.5" height="4.5" fill="#666666"/>
<rect x="148.5" y="181.8" width="4.5" height="4.5" fill="#6d6d6d"/>
<rect x="152.5" y="181.8" width="4.5" height="4.5" fill="#757575"/>
<rect x="156.5" y="181.8" width="4.5" height="4.5" fill="#7c7c7c"/>
<rect x="160.5" y="181.8" width="4.5" height="4.5" fill="#848484"/>
<rect x="164.5" y="181.8" width="4.5" height="4.5" fill="#8c8c8c"/>
<rect x="168.5" y="181.8" width="4.5" height="4.5" fill="#939393"/>
<rect x="172.5" y="181.8" width="12.5" height="4.5" fill="#999999"/>
<rect x="64.5" y="185.8" width="8.5" height="4.5" fill="#999999"/>
<rect x="72.5" y="185.8" width="4.5" height="4.5" fill="#9e9e9e"/>
<rect x="76.5" y="185.8" width="4.5" height="4.5" fill="#a5a5a5"/>
<rect x="80.5" y="185.8" width="4.5" height="4.5" fill="#afafaf"/>
<rect x="84.5" y="185.8" width="4.5" height="4.5" fill="#bababa"/>
<rect x="88.5" y="185.8" width="4.5" height="4.5" fill="#c1c1c1"/>
<rect x="92.5" y="185.8" width="4.5" height="4.5" fill="#c6c6c6"/>
<rect x="96.5" y="185.8" width="4.5" height="4.5" fill="#c9c9c9"/>
<rect x="100.5" y="185.8" width="4.5" height="4.5" fill="#c6c6c6"/>
<rect x="104.5" y="185.8" width="4.5" height="4.5" fill="#bfbfbf"/>
<rect x="108.5" y="185.8" width="4.5" height="4.5" fill="#b5b5b5"/>
<rect x="112.5" y="185.8" width="4.5" height="4.5" fill="#a8a8a8"/>
<rect x="116.5" y="185.8" width="4.5" height="4.5" fill="#9e9e9e"/>
<rect x="120.5" y="185.8" width="4.5" height="4.5" fill="#919191"/>
<rect x="124.5" y="185.8" width="4.5" height="4.5" fill="#848484"/>
<rect x="128.5" y="185.8" width="4.5" height="4.5" fill="#7a7a7a"/>
<rect x="132.5" y="185.8" width="4.5" height="4.5" fill="#707070"/>
<rect x="136.5" y="185.8" width="4.5" height="4.5" fill="#666666"/>
<rect x="140.5" y="185.8" width="8.5" height="4.5" fill="#606060"/>
<rect x="148.5" y="185.8" width="4.5" height="4.5" fill="#686868"/>
<rect x="152.5" y="185.8" width="4.5" height="4.5" fill="#6d6d6d"/>
<rect x="156.5" y="185.8" width="4.5" height="4.5" fill="#777777"/>
<rect x="160.5" y="185.8" width="4.5" height="4.5" fill="#7f7f7f"/>
<rect x="164.5" y="185.8" width="4.5" height="4.5" fill="#898989"/>
<rect x="168.5" y="185.8" width="4.5" height="4.5" fill="#919191"/>
<rect x="172.5" y="185.8" width="12.5" height="4.5" fill="#999999"/>
<rect x="64.5" y="189.8" width="8.5" height="4.5" fill="#999999"/>
<rect x="72.5" y="189.8" width="4.5" height="4.5" fill="#9e9e9e"/>
<rect x="76.5" y="189.8" width="4.5" height="4.5" fill="#a8a8a8"/>
<rect x="80.5" y="189.8" width="4.5" height="4.5" fill="#b2b2b2"/>
<rect x="84.5" y="189.8" width="4.5" height="4.5" fill="#c1c1c1"/>
<rect x="88.5" y="189.8" width="4.5" height="4.5" fill="#cecece"/>
<rect x="92.5" y="189.8" width="4.5" height="4.5" fill="#d8d8d8"/>
<rect x="96.5" y="189.8" width="8.5" height="4.5" fill="#dddddd"/>
<rect x="104.5" y="189.8" width="4.5" height="4.5" fill="#d3d3d3"/>
<rect x="108.5" y="189.8" width="4.5" height="4.5" fill="#c6c6c6"/>
<rect x="112.5" y="189.8" width="4.5" height="4.5" fill="#b7b7b7"/>
<rect x="116.5" y="189.8" width="4.5" height="4.5" fill="#a8a8a8"/>
<rect x="120.5" y="189.8" width="4.5" height="4.5" fill="#9b9b9b"/>
<rect x="124.5" y="189.8" width="4.5" height="4.5" fill="#8c8c8c"/>
<rect x="128.5" y="189.8" width="4.5" height="4.5" fill="#7f7f7f"/>
<rect x="132.5" y="189.8" width="4.5" height="4.5" fill="#757575"/>
<rect x="136.5" y="189.8" width="4.5" height="4.5" fill="#686868"/>
<rect x="140.5" y="189.8" width="4.5" height="4.5" fill="#606060"/>
<rect x="144.5" y="189.8" width="4.5" height="4.5" fill="#5e5e5e"/>
<rect x="148.5" y="189.8" width="4.5" height="4.5" fill="#606060"/>
<rect x="152.5" y="189.8" width="4.5" height="4.5" fill="#666666"/>
<rect x="156.5" y="189.8" width="4.5" height="4.5" fill="#6d6d6d"/>
<rect x="160.5" y="189.8" width="4.5" height="4.5" fill="#757575"/>
<rect x="164.5" y="189.8" width="4.5" height="4.5" fill="#7c7c7c"/>
<rect x="168.5" y="189.8" width="4.5" height="4.5" fill="#848484"/>
<rect x="172.5" y="189.8" width="4.5" height="4.5" fill="#8c8c8c"/>
<rect x="176.5" y="189.8" width="8.5" height="4.5" fill="#8e8e8e"/>
<rect x="64.5" y="193.8" width="8.5" height="4.5" fill="#919191"/>
<rect x="72.5" y="193.8" width="4.5" height="4.5" fill="#969696"/>
<rect x="76.5" y="193.8" width="4.5" height="4.5" fill="#a0a0a0"/>
<rect x="80.5" y="193.8" width="4.5" height="4.5" fill="#aaaaaa"/>
<rect x="84.5" y="193.8" width="4.5" height="4.5" fill="#b7b7b7"/>
<rect x="88.5" y="193.8" width="4.5" height="4.5" fill="#c6c6c6"/>
<rect x="92.5" y="193.8" width="4.5" height="4.5" fill="#d1d1d1"/>
<rect x="96.5" y="193.8" width="8.5" height="4.5" fill="#dbdbdb"/>
<rect x="104.5" y="193.8" width="4.5" height="4.5" fill="#d3d3d3"/>
<rect x="108.5" y="193.8" width="4.5" height="4.5" fill="#c6c6c6"/>
<rect x="112.5" y="193.8" width="4.5" height="4.5" fill="#bababa"/>
<rect x="116.5" y="193.8" width="4.5" height="4.5" fill="#aaaaaa"/>
<rect x="120.5" y="193.8" width="4.5" height="4.5" fill="#9e9e9e"/>
<rect x="124.5" y="193.8" width="4.5" height="4.5" fill="#919191"/>
<rect x="128.5" y="193.8" width="4.5" height="4.5" fill="#848484"/>
<rect x="132.5" y="193.8" width="4.5" height="4.5" fill="#777777"/>
<rect x="136.5" y="193.8" width="4.5" height="4.5" fill="#6b6b6b"/>
<rect x="140.5" y="193.8" width="4.5" height="4.5" fill="#606060"/>
<rect x="144.5" y="193.8" width="4.5" height="4.5" fill="#595959"/>
<rect x="148.5" y="193.8" width="4.5" height="4.5" fill="#565656"/>
<rect x="152.5" y="193.8" width="4.5" height="4.5" fill="#595959"/>
<rect x="156.5" y="193.8" width="4.5" height="4.5" fill="#5b5b5b"/>
<rect x="160.5" y="193.8" width="4.5" height="4.5" fill="#636363"/>
<rect x="164.5" y="193.8" width="4.5" height="4.5" fill="#6b6b6b"/>
<rect x="168.5" y="193.8" width="4.5" height="4.5" fill="#727272"/>
<rect x="172.5" y="193.8" width="4.5" height="4.5" fill="#7a7a7a"/>
<rect x="176.5" y="193.8" width="8.5" height="4.5" fill="#7c7c7c"/>
<rect x="64.5" y="197.8" width="8.5" height="4.5" fill="#848484"/>
<rect x="72.5" y="197.8" width="4.5" height="4.5" fill="#8c8c8c"/>
<rect x="76.5" y="197.8" width="4.5" height="4.5" fill="#939393"/>
<rect x="80.5" y="197.8" width="4.5" height="4.5" fill="#9e9e9e"/>
<rect x="84.5" y="197.8" width="4.5" height="4.5" fill="#a5a5a5"/>
<rect x="88.5" y="197.8" width="4.5" height="4.5" fill="#afafaf"/>
<rect x="92.5" y="197.8" width="4.5" height="4.5" fill="#bababa"/>
<rect x="96.5" y="197.8" width="4.5" height="4.5" fill="#bfbfbf"/>
<rect x="100.5" y="197.8" width="4.5" height="4.5" fill="#c1c1c1"/>
<rect x="104.5" y="197.8" width="4.5" height="4.5" fill="#bfbfbf"/>
<rect x="108.5" y="197.8" width="4.5" height="4.5" fill="#b7b7b7"/>
<rect x="112.5" y="197.8" width="4.5" height="4.5" fill="#adadad"/>
<rect x="116.5" y="197.8" width="4.5" height="4.5" fill="#a5a5a5"/>
<rect x="120.5" y="197.8" width="4.5" height="4.5" fill="#9b9b9b"/>
<rect x="124.5" y="197.8" width="4.5" height="4.5" fill="#919191"/>
<rect x="128.5" y="197.8" width="4.5" height="4.5" fill="#848484"/>
<rect x="132.5" y="197.8" width="4.5" height="4.5" fill="#7a7a7a"/>
<rect x="136.5" y="197.8" width="4.5" height="4.5" fill="#6d6d6d"/>
<rect x="140.5" y="197.8" width="4.5" height="4.5" fill="#606060"/>
<rect x="144.5" y="197.8" width="4.5" height="4.5" fill="#545454"/>
<rect x="148.5" y="197.8" width="4.5" height="4.5" fill="#4c4c4c"/>
<rect x="152.5" y="197.8" width="4.5" height="4.5" fill="#474747"/>
<rect x="156.5" y="197.8" width="4.5" height="4.5" fill="#494949"/>
<rect x="160.5" y="197.8" width="4.5" height="4.5" fill="#4f4f4f"/>
<rect x="164.5" y="197.8" width="4.5" height="4.5" fill="#545454"/>
<rect x="168.5" y="197.8" width="4.5" height="4.5" fill="#5b5b5b"/>
<rect x="172.5" y="197.8" width="4.5" height="4.5" fill="#636363"/>
<rect x="176.5" y="197.8" width="8.5" height="4.5" fill="#666666"/>
<rect x="64.5" y="201.8" width="8.5" height="4.5" fill="#7a7a7a"/>
<rect x="72.5" y="201.8" width="4.5" height="4.5" fill="#828282"/>
<rect x="76.5" y="201.8" width="4.5" height="4.5" fill="#878787"/>
<rect x="80.5" y="201.8" width="4.5" height="4.5" fill="#8e8e8e"/>
<rect x="84.5" y="201.8" width="4.5" height="4.5" fill="#969696"/>
<rect x="88.5" y="201.8" width="4.5" height="4.5" fill="#9e9e9e"/>
<rect x="92.5" y="201.8" width="4.5" height="4.5" fill="#a5a5a5"/>
<rect x="96.5" y="201.8" width="12.5" height="4.5" fill="#aaaaaa"/>
<rect x="108.5" y="201.8" width="4.5" height="4.5" fill="#a5a5a5"/>
<rect x="112.5" y="201.8" width="4.5" height="4.5" fill="#a0a0a0"/>
<rect x="116.5" y="201.8" width="4.5" height="4.5" fill="#9b9b9b"/>
<rect x="120.5" y="201.8" width="4.5" height="4.5" fill="#939393"/>
<rect x="124.5" y="201.8" width="4.5" height="4.5" fill="#8c8c8c"/>
<rect x="128.5" y="201.8" width="4.5" height="4.5" fill="#828282"/>
<rect x="132.5" y="201.8" width="4.5" height="4.5" fill="#777777"/>
<rect x="136.5" y="201.8" width="4.5" height="4.5" fill="#6b6b6b"/>
<rect x="140.5" y="201.8" width="4.5" height="4.5" fill="#5e5e5e"/>
<rect x="144.5" y="201.8" width="4.5" height="4.5" fill="#4f4f4f"/>
<rect x="148.5" y="201.8" width="4.5" height="4.5" fill="#3d3d3d"/>
<rect x="152.5" y="201.8" width="4.5" height="4.5" fill="#333333"/>
<rect x="156.5" y="201.8" width="4.5" height="4.5" fill="#303030"/>
<rect x="160.5" y="201.8" width="4.5" height="4.5" fill="#333333"/>
<rect x="164.5" y="201.8" width="4.5" height="4.5" fill="#383838"/>
<rect x="168.5" y="201.8" width="4.5" height="4.5" fill="#3d3d3d"/>
<rect x="172.5" y="201.8" width="4.5" height="4.5" fill="#444444"/>
<rect x="176.5" y="201.8" width="8.5" height="4.5" fill="#474747"/>
<rect x="64.5" y="205.8" width="8.5" height="4.5" fill="#727272"/>
<rect x="72.5" y="205.8" width="4.5" height="4.5" fill="#777777"/>
<rect x="76.5" y="205.8" width="4.5" height="4.5" fill="#7c7c7c"/>
<rect x="80.5" y="205.8" width="4.5" height="4.5" fill="#848484"/>
<rect x="84.5" y="205.8" width="4.5" height="4.5" fill="#898989"/>
<rect x="88.5" y="205.8" width="4.5" height="4.5" fill="#919191"/>
<rect x="92.5" y="205.8" width="4.5" height="4.5" fill="#939393"/>
<rect x="96.5" y="205.8" width="4.5" height="4.5" fill="#999999"/>
<rect x="100.5" y="205.8" width="8.5" height="4.5" fill="#9b9b9b"/>
<rect x="108.5" y="205.8" width="4.5" height="4.5" fill="#999999"/>
<rect x="112.5" y="205.8" width="4.5" height="4.5" fill="#969696"/>
<rect x="116.5" y="205.8" width="4.5" height="4.5" fill="#919191"/>
<rect x="120.5" y="205.8" width="4.5" height="4.5" fill="#8c8c8c"/>
<rect x="124.5" y="205.8" width="4.5" height="4.5" fill="#878787"/>
<rect x="128.5" y="205.8" width="4.5" height="4.5" fill="#7f7f7f"/>
<rect x="132.5" y="205.8" width="4.5" height="4.5" fill="#757575"/>
<rect x="136.5" y="205.8" width="4.5" height="4.5" fill="#6b6b6b"/>
<rect x="140.5" y="205.8" width="4.5" height="4.5" fill="#5b5b5b"/>
<rect x="144.5" y="205.8" width="4.5" height="4.5" fill="#4c4c4c"/>
<rect x="148.5" y="205.8" width="4.5" height="4.5" fill="#3a3a3a"/>
<rect x="152.5" y="205.8" width="4.5" height="4.5" fill="#2d2d2d"/>
<rect x="156.5" y="205.8" width="4.5" height="4.5" fill="#232323"/>
<rect x="160.5" y="205.8" width="4.5" height="4.5" fill="#1e1e1e"/>
<rect x="164.5" y="205.8" width="4.5" height="4.5" fill="#1c1c1c"/>
<rect x="168.5" y="205.8" width="4.5" height="4.5" fill="#1e1e1e"/>
<rect x="172.5" y="205.8" width="4.5" height="4.5" fill="#212121"/>
<rect x="176.5" y="205.8" width="8.5" height="4.5" fill="#232323"/>
<rect x="64.5" y="209.8" width="8.5" height="4.5" fill="#6d6d6d"/>
<rect x="72.5" y="209.8" width="4.5" height="4.5" fill="#727272"/>
<rect x="76.5" y="209.8" width="4.5" height="4.5" fill="#777777"/>
<rect x="80.5" y="209.8" width="4.5" height="4.5" fill="#7a7a7a"/>
<rect x="84.5" y="209.8" width="4.5" height="4.5" fill="#7f7f7f"/>
<rect x="88.5" y="209.8" width="4.5" height="4.5" fill="#848484"/>
<rect x="92.5" y="209.8" width="4.5" height="4.5" fill="#898989"/>
<rect x="96.5" y="209.8" width="4.5" height="4.5" fill="#8c8c8c"/>
<rect x="100.5" y="209.8" width="12.5" height="4.5" fill="#8e8e8e"/>
<rect x="112.5" y="209.8" width="4.5" height="4.5" fill="#8c8c8c"/>
<rect x="116.5" y="209.8" width="4.5" height="4.5" fill="#898989"/>
<rect x="120.5" y="209.8" width="4.5" height="4.5" fill="#878787"/>
<rect x="124.5" y="209.8" width="4.5" height="4.5" fill="#828282"/>
<rect x="128.5" y="209.8" width="4.5" height="4.5" fill="#7a7a7a"/>
<rect x="132.5" y="209.8" width="4.5" height="4.5" fill="#727272"/>
<rect x="136.5" y="209.8" width="4.5" height="4.5" fill="#686868"/>
<rect x="140.5" y="209.8" width="4.5" height="4.5" fill="#5e5e5e"/>
<rect x="144.5" y="209.8" width="4.5" height="4.5" fill="#515151"/>
<rect x="148.5" y="209.8" width="4.5" height="4.5" fill="#424242"/>
<rect x="152.5" y="209.8" width="4.5" height="4.5" fill="#333333"/>
<rect x="156.5" y="209.8" width="4.5" height="4.5" fill="#262626"/>
<rect x="160.5" y="209.8" width="4.5" height="4.5" fill="#161616"/>
<rect x="164.5" y="209.8" width="4.5" height="4.5" fill="#0f0f0f"/>
<rect x="168.5" y="209.8" width="4.5" height="4.5" fill="#070707"/>
<rect x="172.5" y="209.8" width="12.5" height="4.5" fill="#050505"/>
<rect x="64.5" y="213.8" width="8.5" height="4.5" fill="#6b6b6b"/>
<rect x="72.5" y="213.8" width="4.5" height="4.5" fill="#6d6d6d"/>
<rect x="76.5" y="213.8" width="4.5" height="4.5" fill="#727272"/>
<rect x="80.5" y="213.8" width="4.5" height="4.5" fill="#757575"/>
<rect x="84.5" y="213.8" width="4.5" height="4.5" fill="#7a7a7a"/>
<rect x="88.5" y="213.8" width="4.5" height="4.5" fill="#7c7c7c"/>
<rect x="92.5" y="213.8" width="4.5" height="4.5" fill="#828282"/>
<rect x="96.5" y="213.8" width="4.5" height="4.5" fill="#848484"/>
<rect x="100.5" y="213.8" width="16.5" height="4.5" fill="#878787"/>
<rect x="116.5" y="213.8" width="8.5" height="4.5" fill="#848484"/>
<rect x="124.5" y="213.8" width="4.5" height="4.5" fill="#7f7f7f"/>
<rect x="128.5" y="213.8" width="4.5" height="4.5" fill="#777777"/>
<rect x="132.5" y="213.8" width="4.5" height="4.5" fill="#707070"/>
<rect x="136.5" y="213.8" width="4.5" height="4.5" fill="#686868"/>
<rect x="140.5" y="213.8" width="4.5" height="4.5" fill="#5e5e5e"/>
<rect x="144.5" y="213.8" width="4.5" height="4.5" fill="#545454"/>
<rect x="148.5" y="213.8" width="4.5" height="4.5" fill="#474747"/>
<rect x="152.5" y="213.8" width="4.5" height="4.5" fill="#3a3a3a"/>
<rect x="156.5" y="213.8" width="4.5" height="4.5" fill="#2d2d2d"/>
<rect x="160.5" y="213.8" width="4.5" height="4.5" fill="#212121"/>
<rect x="164.5" y="213.8" width="4.5" height="4.5" fill="#141414"/>
<rect x="168.5" y="213.8" width="4.5" height="4.5" fill="#0a0a0a"/>
<rect x="172.5" y="213.8" width="4.5" height="4.5" fill="#020202"/>
<rect x="176.5" y="213.8" width="8.5" height="4.5" fill="#000000"/>
<rect x="64.5" y="217.8" width="8.5" height="4.5" fill="#6b6b6b"/>
<rect x="72.5" y="217.8" width="4.5" height="4.5" fill="#6d6d6d"/>
<rect x="76.5" y="217.8" width="4.5" height="4.5" fill="#707070"/>
<rect x="80.5" y="217.8" width="4.5" height="4.5" fill="#757575"/>
<rect x="84.5" y="217.8" width="4.5" height="4.5" fill="#777777"/>
<rect x="88.5" y="217.8" width="4.5" height="4.5" fill="#7c7c7c"/>
<rect x="92.5" y="217.8" width="4.5" height="4.5" fill="#7f7f7f"/>
<rect x="96.5" y="217.8" width="4.5" height="4.5" fill="#828282"/>
<rect x="100.5" y="217.8" width="20.5" height="4.5" fill="#848484"/>
<rect x="120.5" y="217.8" width="4.5" height="4.5" fill="#828282"/>
<rect x="124.5" y="217.8" width="4.5" height="4.5" fill="#7f7f7f"/>
<rect x="128.5" y="217.8" width="4.5" height="4.5" fill="#777777"/>
<rect x="132.5" y="217.8" width="4.5" height="4.5" fill="#707070"/>
<rect x="136.5" y="217.8" width="4.5" height="4.5" fill="#686868"/>
<rect x="140.5" y="217.8" width="4.5" height="4.5" fill="#5e5e5e"/>
<rect x="144.5" y="217.8" width="4.5" height="4.5" fill="#545454"/>
<rect x="148.5" y="217.8" width="4.5" height="4.5" fill="#494949"/>
<rect x="152.5" y="217.8" width="4.5" height="4.5" fill="#3d3d3d"/>
<rect x="156.5" y="217.8" width="4.5" height="4.5" fill="#303030"/>
<rect x="160.5" y="217.8" width="4.5" height="4.5" fill="#262626"/>
<rect x="164.5" y="217.8" width="4.5" height="4.5" fill="#191919"/>
<rect x="168.5" y="217.8" width="4.5" height="4.5" fill="#0f0f0f"/>
<rect x="172.5" y="217.8" width="4.5" height="4.5" fill="#070707"/>
<rect x="176.5" y="217.8" width="8.5" height="4.5" fill="#050505"/>
<rect x="64.5" y="221.8" width="8.5" height="4.5" fill="#6b6b6b"/>
<rect x="72.5" y="221.8" width="4.5" height="4.5" fill="#6d6d6d"/>
<rect x="76.5" y="221.8" width="4.5" height="4.5" fill="#707070"/>
<rect x="80.5" y="221.8" width="4.5" height="4.5" fill="#757575"/>
<rect x="84.5" y="221.8" width="4.5" height="4.5" fill="#777777"/>
<rect x="88.5" y="221.8" width="4.5" height="4.5" fill="#7c7c7c"/>
<rect x="92.5" y="221.8" width="4.5" height="4.5" fill="#7f7f7f"/>
<rect x="96.5" y="221.8" width="4.5" height="4.5" fill="#828282"/>
<rect x="100.5" y="221.8" width="20.5" height="4.5" fill="#848484"/>
<rect x="120.5" y="221.8" width="4.5" height="4.5" fill="#828282"/>
<rect x="124.5" y="221.8" width="4.5" height="4.5" fill="#7f7f7f"/>
<rect x="128.5" y="221.8" width="4.5" height="4.5" fill="#777777"/>
<rect x="132.5" y="221.8" width="4.5" height="4.5" fill="#707070"/>
<rect x="136.5" y="221.8" width="4.5" height="4.5" fill="#686868"/>
<rect x="140.5" y="221.8" width="4.5" height="4.5" fill="#5e5e5e"/>
<rect x="144.5" y="221.8" width="4.5" height="4.5" fill="#545454"/>
<rect x="148.5" y="221.8" width="4.5" height="4.5" fill="#494949"/>
<rect x="152.5" y="221.8" width="4.5" height="4.5" fill="#3d3d3d"/>
<rect x="156.5" y="221.8" width="4.5" height="4.5" fill="#303030"/>
<rect x="160.5" y="221.8" width="4.5" height="4.5" fill="#262626"/>
<rect x="164.5" y="221.8" width="4.5" height="4.5" fill="#191919"/>
<rect x="168.5" y="221.8" width="4.5" height="4.5" fill="#0f0f0f"/>
<rect x="172.5" y="221.8" width="4.5" height="4.5" fill="#070707"/>
<rect x="176.5" y="221.8" width="8.5" height="4.5" fill="#050505"/>
</g></g>
<rect x="37.3" y="145.3" width="214.4" height="112.5" fill="none" stroke="#9c9c9c" stroke-width="0.7"/>
<path d="M60.9 257.8v-2.2M60.9 145.3v2.2M108.6 257.8v-2.2M108.6 145.3v2.2M156.4 257.8v-2.2M156.4 145.3v2.2M204.1 257.8v-2.2M204.1 145.3v2.2M37.3 159.5h2.2M251.7 159.5h-2.2M37.3 179.9h2.2M251.7 179.9h-2.2M37.3 200.4h2.2M251.7 200.4h-2.2M37.3 220.8h2.2M251.7 220.8h-2.2M37.3 241.3h2.2M251.7 241.3h-2.2" stroke="#9c9c9c" stroke-width="0.7" fill="none"/>
<path d="M46.4 169.9H200.5M46.4 180.1H200.5M46.4 200.6H200.5" stroke="#0a0a0a" stroke-width="1.1" stroke-dasharray="4.1 2.2" fill="none"/>
<path d="M37.3 161.5H60.9V217.4M185.3 217.4V161.5H251.7" stroke="#383838" stroke-width="1.3" fill="none"/>
<path d="M70.5 180.6L63.5 162.1M69.4 168L63.5 162.1L62.2 168.5M70.5 170.1L69 153.9M72.6 159.2L69 153.9L66.4 159.3M70.5 189.6L52 183.3M59.3 184.7L52 183.3L56.9 186M70.5 200.5L53.4 206.8M57.8 204.1L53.4 206.8L60.3 205.3M70.5 210.6L59.3 224.8M60.3 219.7L59.3 224.8L65.7 220.5M71.2 216.6L62.3 233.7M61.9 227.7L62.3 233.7L68.5 228.4M98.5 166.6L97.3 162.8M98.4 164L97.3 162.8L97 164.1M98.5 180.6L93 174.1M96.1 176.1L93 174.1L93.6 176.4M98.5 190.9L87 195.4M89.9 193.5L87 195.4L91.7 194.3M98.5 201.1L91 214.5M90.9 209.8L91 214.5L96.1 210.3M98.5 210.6L98.3 229.9M94.6 223.5L98.3 229.9L102.1 223.5M98.5 216.6L98.5 235.1M94.9 229L98.5 235.1L102.1 229M123.7 169.7L123 165.6M124 166.9L123 165.6L122.4 167M123 179.6L125.9 174.6M125.9 176.4L125.9 174.6L124 176.1M122.6 190.1L129.8 197.4M126 195.2L129.8 197.4L128.8 194.7M122.6 200.5L132.9 215.9M126.5 211.2L132.9 215.9L132.5 210.5M123.6 210.8L135 230.1M127.5 224.1L135 230.1L135 223.3M123.6 216.6L136 235.4M128.3 229.6L136 235.4L135.5 228.8M147.5 169.7L149 174.6M147.6 173L149 174.6L149.4 172.9M146.6 180.4L144 184.5M144.1 183.1L144 184.5L145.6 183.2M147.2 190.1L155.4 199.5M150.9 196.7L155.4 199.5L154.5 196.1M147.6 200.5L159.5 215.9M152.6 211.2L159.5 215.9L158.5 210.4M147.6 210.8L158.5 229.1M151.4 223.4L158.5 229.1L158.4 222.7M147.6 216.6L159.5 235.4M152 229.6L159.5 235.4L159.2 228.8M101.6 157.5L119.6 159.1M113.4 159.2L119.6 159.1L114 157.9M130 157.5L177 164.1M167.9 163.8L177 164.1L169.3 162M160.5 161.6L193 173.1M183.3 171.1L193 173.1L186.6 169.4M175.3 159.1L216 173.1M206.3 171.2L216 173.1L209.6 169.5M175.3 170.1L186 200.6M178.5 192.9L186 200.6L187.9 192.3M175.5 180.6L184.5 200.6M177.7 194.3L184.5 200.6L185.4 193.7M175.5 190.6L184 219.6M176.8 211.7L184 219.6L186.4 211.2M175.5 200.6L175 225.1M170.4 217L175 225.1L179.9 217M175.5 210.6L175 231.6M171.1 224.7L175 231.6L179.2 224.7M175.5 216.6L175 238.1M171 231L175 238.1L179.3 231M175.3 217.1L175 244.1M170.1 235.6L175 244.1L180.1 235.6M175.2 217.6L175 249.9M170.1 241.4L175 249.9L180 241.4" fill="none" stroke="#141414" stroke-width="0.6" stroke-linejoin="miter"/>
<path d="M61.5 41.4C65 40.9 70 40.7 76 40.7H112C117 40.7 121 41.4 123.5 43.3C126.5 45.7 128.4 49 128.4 53.5C128.4 57.5 127.3 60.5 125 63C122 66 116.5 67.2 110 68C102 69 95 69.3 88 70C80 70.9 74.5 72 70.5 73.2C67.5 74 65 74.8 62.8 75.2" transform="translate(0 119.6)" stroke="#951295" stroke-width="1.5" fill="none" stroke-linecap="round"/>
<text x="202.2" y="172.6" class="ser" textLength="45" lengthAdjust="spacingAndGlyphs"><tspan font-style="italic">y</tspan> = 0.72 m</text>
<text x="202.2" y="182.8" class="ser" textLength="45" lengthAdjust="spacingAndGlyphs"><tspan font-style="italic">y</tspan> = 0.77 m</text>
<text x="202.2" y="203.3" class="ser" textLength="45" lengthAdjust="spacingAndGlyphs"><tspan font-style="italic">y</tspan> = 0.87 m</text>
<text x="248.8" y="152.9" class="bold" text-anchor="end">c)</text>
<path d="M60.9 242.4L60.9 250.8M59.3 248L60.9 250.8L62.5 248" fill="none" stroke="#333" stroke-width="0.7"/>
<text x="63.4" y="249.1" class="sc">0.10 ms<tspan dy="-3.9" font-size="7">-1</tspan></text>
<text x="33.4" y="162.9" class="tk" text-anchor="end">0.67</text>
<text x="33.4" y="183.3" class="tk" text-anchor="end">0.77</text>
<text x="33.4" y="203.8" class="tk" text-anchor="end">0.87</text>
<text x="33.4" y="224.2" class="tk" text-anchor="end">0.97</text>
<text x="33.4" y="244.7" class="tk" text-anchor="end">1.07</text>
<text x="60.9" y="270.6" class="tk" text-anchor="middle">0.00</text>
<text x="108.6" y="270.6" class="tk" text-anchor="middle">0.10</text>
<text x="156.4" y="270.6" class="tk" text-anchor="middle">0.20</text>
<text x="204.1" y="270.6" class="tk" text-anchor="middle">0.30</text>
<g clip-path="url(#hcd)"><g filter="url(#jet)">
<rect x="299" y="153.8" width="20.5" height="4.5" fill="#3f3f3f"/>
<rect x="319" y="153.8" width="4.5" height="4.5" fill="#424242"/>
<rect x="323" y="153.8" width="4.5" height="4.5" fill="#474747"/>
<rect x="327" y="153.8" width="4.5" height="4.5" fill="#494949"/>
<rect x="331" y="153.8" width="4.5" height="4.5" fill="#4f4f4f"/>
<rect x="335" y="153.8" width="4.5" height="4.5" fill="#545454"/>
<rect x="339" y="153.8" width="4.5" height="4.5" fill="#565656"/>
<rect x="343" y="153.8" width="8.5" height="4.5" fill="#595959"/>
<rect x="351" y="153.8" width="4.5" height="4.5" fill="#545454"/>
<rect x="355" y="153.8" width="4.5" height="4.5" fill="#515151"/>
<rect x="359" y="153.8" width="4.5" height="4.5" fill="#4f4f4f"/>
<rect x="363" y="153.8" width="8.5" height="4.5" fill="#4c4c4c"/>
<rect x="371" y="153.8" width="24.5" height="4.5" fill="#494949"/>
<rect x="395" y="153.8" width="24.5" height="4.5" fill="#4c4c4c"/>
<rect x="299" y="157.8" width="20.5" height="4.5" fill="#3f3f3f"/>
<rect x="319" y="157.8" width="4.5" height="4.5" fill="#424242"/>
<rect x="323" y="157.8" width="4.5" height="4.5" fill="#474747"/>
<rect x="327" y="157.8" width="4.5" height="4.5" fill="#494949"/>
<rect x="331" y="157.8" width="4.5" height="4.5" fill="#4f4f4f"/>
<rect x="335" y="157.8" width="4.5" height="4.5" fill="#545454"/>
<rect x="339" y="157.8" width="4.5" height="4.5" fill="#565656"/>
<rect x="343" y="157.8" width="8.5" height="4.5" fill="#595959"/>
<rect x="351" y="157.8" width="4.5" height="4.5" fill="#545454"/>
<rect x="355" y="157.8" width="4.5" height="4.5" fill="#515151"/>
<rect x="359" y="157.8" width="4.5" height="4.5" fill="#4f4f4f"/>
<rect x="363" y="157.8" width="8.5" height="4.5" fill="#4c4c4c"/>
<rect x="371" y="157.8" width="24.5" height="4.5" fill="#494949"/>
<rect x="395" y="157.8" width="24.5" height="4.5" fill="#4c4c4c"/>
<rect x="299" y="161.8" width="8.5" height="4.5" fill="#474747"/>
<rect x="307" y="161.8" width="8.5" height="4.5" fill="#444444"/>
<rect x="315" y="161.8" width="8.5" height="4.5" fill="#474747"/>
<rect x="323" y="161.8" width="4.5" height="4.5" fill="#4c4c4c"/>
<rect x="327" y="161.8" width="4.5" height="4.5" fill="#4f4f4f"/>
<rect x="331" y="161.8" width="4.5" height="4.5" fill="#545454"/>
<rect x="335" y="161.8" width="8.5" height="4.5" fill="#595959"/>
<rect x="343" y="161.8" width="4.5" height="4.5" fill="#5b5b5b"/>
<rect x="347" y="161.8" width="8.5" height="4.5" fill="#595959"/>
<rect x="355" y="161.8" width="4.5" height="4.5" fill="#565656"/>
<rect x="359" y="161.8" width="4.5" height="4.5" fill="#545454"/>
<rect x="363" y="161.8" width="4.5" height="4.5" fill="#515151"/>
<rect x="367" y="161.8" width="8.5" height="4.5" fill="#4f4f4f"/>
<rect x="375" y="161.8" width="20.5" height="4.5" fill="#4c4c4c"/>
<rect x="395" y="161.8" width="12.5" height="4.5" fill="#4f4f4f"/>
<rect x="407" y="161.8" width="12.5" height="4.5" fill="#515151"/>
<rect x="299" y="165.8" width="8.5" height="4.5" fill="#565656"/>
<rect x="307" y="165.8" width="8.5" height="4.5" fill="#515151"/>
<rect x="315" y="165.8" width="4.5" height="4.5" fill="#4f4f4f"/>
<rect x="319" y="165.8" width="8.5" height="4.5" fill="#515151"/>
<rect x="327" y="165.8" width="4.5" height="4.5" fill="#545454"/>
<rect x="331" y="165.8" width="4.5" height="4.5" fill="#595959"/>
<rect x="335" y="165.8" width="8.5" height="4.5" fill="#5b5b5b"/>
<rect x="343" y="165.8" width="4.5" height="4.5" fill="#5e5e5e"/>
<rect x="347" y="165.8" width="4.5" height="4.5" fill="#5b5b5b"/>
<rect x="351" y="165.8" width="8.5" height="4.5" fill="#595959"/>
<rect x="359" y="165.8" width="4.5" height="4.5" fill="#565656"/>
<rect x="363" y="165.8" width="8.5" height="4.5" fill="#545454"/>
<rect x="371" y="165.8" width="20.5" height="4.5" fill="#515151"/>
<rect x="391" y="165.8" width="4.5" height="4.5" fill="#545454"/>
<rect x="395" y="165.8" width="8.5" height="4.5" fill="#565656"/>
<rect x="403" y="165.8" width="8.5" height="4.5" fill="#595959"/>
<rect x="411" y="165.8" width="8.5" height="4.5" fill="#5b5b5b"/>
<rect x="299" y="169.8" width="8.5" height="4.5" fill="#686868"/>
<rect x="307" y="169.8" width="4.5" height="4.5" fill="#636363"/>
<rect x="311" y="169.8" width="4.5" height="4.5" fill="#5e5e5e"/>
<rect x="315" y="169.8" width="8.5" height="4.5" fill="#5b5b5b"/>
<rect x="323" y="169.8" width="4.5" height="4.5" fill="#595959"/>
<rect x="327" y="169.8" width="4.5" height="4.5" fill="#5b5b5b"/>
<rect x="331" y="169.8" width="20.5" height="4.5" fill="#5e5e5e"/>
<rect x="351" y="169.8" width="4.5" height="4.5" fill="#5b5b5b"/>
<rect x="355" y="169.8" width="8.5" height="4.5" fill="#595959"/>
<rect x="363" y="169.8" width="20.5" height="4.5" fill="#565656"/>
<rect x="383" y="169.8" width="8.5" height="4.5" fill="#595959"/>
<rect x="391" y="169.8" width="4.5" height="4.5" fill="#5b5b5b"/>
<rect x="395" y="169.8" width="4.5" height="4.5" fill="#606060"/>
<rect x="399" y="169.8" width="4.5" height="4.5" fill="#636363"/>
<rect x="403" y="169.8" width="4.5" height="4.5" fill="#666666"/>
<rect x="407" y="169.8" width="12.5" height="4.5" fill="#686868"/>
<rect x="299" y="173.8" width="8.5" height="4.5" fill="#7a7a7a"/>
<rect x="307" y="173.8" width="4.5" height="4.5" fill="#757575"/>
<rect x="311" y="173.8" width="4.5" height="4.5" fill="#6d6d6d"/>
<rect x="315" y="173.8" width="4.5" height="4.5" fill="#6b6b6b"/>
<rect x="319" y="173.8" width="4.5" height="4.5" fill="#666666"/>
<rect x="323" y="173.8" width="16.5" height="4.5" fill="#636363"/>
<rect x="339" y="173.8" width="8.5" height="4.5" fill="#606060"/>
<rect x="347" y="173.8" width="4.5" height="4.5" fill="#5e5e5e"/>
<rect x="351" y="173.8" width="4.5" height="4.5" fill="#5b5b5b"/>
<rect x="355" y="173.8" width="4.5" height="4.5" fill="#595959"/>
<rect x="359" y="173.8" width="12.5" height="4.5" fill="#565656"/>
<rect x="371" y="173.8" width="8.5" height="4.5" fill="#595959"/>
<rect x="379" y="173.8" width="4.5" height="4.5" fill="#5b5b5b"/>
<rect x="383" y="173.8" width="4.5" height="4.5" fill="#5e5e5e"/>
<rect x="387" y="173.8" width="4.5" height="4.5" fill="#606060"/>
<rect x="391" y="173.8" width="4.5" height="4.5" fill="#666666"/>
<rect x="395" y="173.8" width="4.5" height="4.5" fill="#686868"/>
<rect x="399" y="173.8" width="4.5" height="4.5" fill="#6d6d6d"/>
<rect x="403" y="173.8" width="4.5" height="4.5" fill="#707070"/>
<rect x="407" y="173.8" width="12.5" height="4.5" fill="#727272"/>
<rect x="299" y="177.8" width="8.5" height="4.5" fill="#878787"/>
<rect x="307" y="177.8" width="4.5" height="4.5" fill="#828282"/>
<rect x="311" y="177.8" width="4.5" height="4.5" fill="#7c7c7c"/>
<rect x="315" y="177.8" width="4.5" height="4.5" fill="#777777"/>
<rect x="319" y="177.8" width="4.5" height="4.5" fill="#727272"/>
<rect x="323" y="177.8" width="4.5" height="4.5" fill="#6d6d6d"/>
<rect x="327" y="177.8" width="4.5" height="4.5" fill="#6b6b6b"/>
<rect x="331" y="177.8" width="4.5" height="4.5" fill="#686868"/>
<rect x="335" y="177.8" width="4.5" height="4.5" fill="#666666"/>
<rect x="339" y="177.8" width="8.5" height="4.5" fill="#636363"/>
<rect x="347" y="177.8" width="4.5" height="4.5" fill="#5e5e5e"/>
<rect x="351" y="177.8" width="4.5" height="4.5" fill="#5b5b5b"/>
<rect x="355" y="177.8" width="4.5" height="4.5" fill="#595959"/>
<rect x="359" y="177.8" width="12.5" height="4.5" fill="#565656"/>
<rect x="371" y="177.8" width="4.5" height="4.5" fill="#595959"/>
<rect x="375" y="177.8" width="4.5" height="4.5" fill="#5b5b5b"/>
<rect x="379" y="177.8" width="4.5" height="4.5" fill="#5e5e5e"/>
<rect x="383" y="177.8" width="4.5" height="4.5" fill="#636363"/>
<rect x="387" y="177.8" width="4.5" height="4.5" fill="#666666"/>
<rect x="391" y="177.8" width="4.5" height="4.5" fill="#6b6b6b"/>
<rect x="395" y="177.8" width="4.5" height="4.5" fill="#6d6d6d"/>
<rect x="399" y="177.8" width="4.5" height="4.5" fill="#727272"/>
<rect x="403" y="177.8" width="4.5" height="4.5" fill="#757575"/>
<rect x="407" y="177.8" width="12.5" height="4.5" fill="#777777"/>
<rect x="299" y="181.8" width="8.5" height="4.5" fill="#919191"/>
<rect x="307" y="181.8" width="4.5" height="4.5" fill="#8e8e8e"/>
<rect x="311" y="181.8" width="4.5" height="4.5" fill="#898989"/>
<rect x="315" y="181.8" width="4.5" height="4.5" fill="#848484"/>
<rect x="319" y="181.8" width="4.5" height="4.5" fill="#7f7f7f"/>
<rect x="323" y="181.8" width="4.5" height="4.5" fill="#7a7a7a"/>
<rect x="327" y="181.8" width="4.5" height="4.5" fill="#757575"/>
<rect x="331" y="181.8" width="4.5" height="4.5" fill="#707070"/>
<rect x="335" y="181.8" width="4.5" height="4.5" fill="#6b6b6b"/>
<rect x="339" y="181.8" width="4.5" height="4.5" fill="#686868"/>
<rect x="343" y="181.8" width="4.5" height="4.5" fill="#636363"/>
<rect x="347" y="181.8" width="4.5" height="4.5" fill="#5e5e5e"/>
<rect x="351" y="181.8" width="4.5" height="4.5" fill="#595959"/>
<rect x="355" y="181.8" width="4.5" height="4.5" fill="#565656"/>
<rect x="359" y="181.8" width="4.5" height="4.5" fill="#545454"/>
<rect x="363" y="181.8" width="8.5" height="4.5" fill="#565656"/>
<rect x="371" y="181.8" width="4.5" height="4.5" fill="#595959"/>
<rect x="375" y="181.8" width="4.5" height="4.5" fill="#5e5e5e"/>
<rect x="379" y="181.8" width="4.5" height="4.5" fill="#606060"/>
<rect x="383" y="181.8" width="4.5" height="4.5" fill="#666666"/>
<rect x="387" y="181.8" width="4.5" height="4.5" fill="#686868"/>
<rect x="391" y="181.8" width="4.5" height="4.5" fill="#6d6d6d"/>
<rect x="395" y="181.8" width="4.5" height="4.5" fill="#707070"/>
<rect x="399" y="181.8" width="4.5" height="4.5" fill="#757575"/>
<rect x="403" y="181.8" width="4.5" height="4.5" fill="#777777"/>
<rect x="407" y="181.8" width="12.5" height="4.5" fill="#7a7a7a"/>
<rect x="299" y="185.8" width="8.5" height="4.5" fill="#999999"/>
<rect x="307" y="185.8" width="4.5" height="4.5" fill="#969696"/>
<rect x="311" y="185.8" width="4.5" height="4.5" fill="#919191"/>
<rect x="315" y="185.8" width="4.5" height="4.5" fill="#8e8e8e"/>
<rect x="319" y="185.8" width="4.5" height="4.5" fill="#898989"/>
<rect x="323" y="185.8" width="4.5" height="4.5" fill="#848484"/>
<rect x="327" y="185.8" width="4.5" height="4.5" fill="#7f7f7f"/>
<rect x="331" y="185.8" width="4.5" height="4.5" fill="#777777"/>
<rect x="335" y="185.8" width="4.5" height="4.5" fill="#707070"/>
<rect x="339" y="185.8" width="4.5" height="4.5" fill="#6b6b6b"/>
<rect x="343" y="185.8" width="4.5" height="4.5" fill="#666666"/>
<rect x="347" y="185.8" width="4.5" height="4.5" fill="#606060"/>
<rect x="351" y="185.8" width="4.5" height="4.5" fill="#595959"/>
<rect x="355" y="185.8" width="12.5" height="4.5" fill="#545454"/>
<rect x="367" y="185.8" width="4.5" height="4.5" fill="#565656"/>
<rect x="371" y="185.8" width="4.5" height="4.5" fill="#5b5b5b"/>
<rect x="375" y="185.8" width="4.5" height="4.5" fill="#5e5e5e"/>
<rect x="379" y="185.8" width="4.5" height="4.5" fill="#636363"/>
<rect x="383" y="185.8" width="4.5" height="4.5" fill="#666666"/>
<rect x="387" y="185.8" width="4.5" height="4.5" fill="#6b6b6b"/>
<rect x="391" y="185.8" width="4.5" height="4.5" fill="#6d6d6d"/>
<rect x="395" y="185.8" width="4.5" height="4.5" fill="#727272"/>
<rect x="399" y="185.8" width="4.5" height="4.5" fill="#757575"/>
<rect x="403" y="185.8" width="4.5" height="4.5" fill="#7a7a7a"/>
<rect x="407" y="185.8" width="12.5" height="4.5" fill="#7c7c7c"/>
<rect x="299" y="189.8" width="12.5" height="4.5" fill="#9b9b9b"/>
<rect x="311" y="189.8" width="4.5" height="4.5" fill="#999999"/>
<rect x="315" y="189.8" width="4.5" height="4.5" fill="#939393"/>
<rect x="319" y="189.8" width="4.5" height="4.5" fill="#919191"/>
<rect x="323" y="189.8" width="4.5" height="4.5" fill="#8c8c8c"/>
<rect x="327" y="189.8" width="4.5" height="4.5" fill="#878787"/>
<rect x="331" y="189.8" width="4.5" height="4.5" fill="#7f7f7f"/>
<rect x="335" y="189.8" width="4.5" height="4.5" fill="#777777"/>
<rect x="339" y="189.8" width="4.5" height="4.5" fill="#707070"/>
<rect x="343" y="189.8" width="4.5" height="4.5" fill="#686868"/>
<rect x="347" y="189.8" width="4.5" height="4.5" fill="#606060"/>
<rect x="351" y="189.8" width="4.5" height="4.5" fill="#595959"/>
<rect x="355" y="189.8" width="12.5" height="4.5" fill="#545454"/>
<rect x="367" y="189.8" width="4.5" height="4.5" fill="#565656"/>
<rect x="371" y="189.8" width="4.5" height="4.5" fill="#5b5b5b"/>
<rect x="375" y="189.8" width="4.5" height="4.5" fill="#5e5e5e"/>
<rect x="379" y="189.8" width="4.5" height="4.5" fill="#636363"/>
<rect x="383" y="189.8" width="4.5" height="4.5" fill="#686868"/>
<rect x="387" y="189.8" width="4.5" height="4.5" fill="#6b6b6b"/>
<rect x="391" y="189.8" width="4.5" height="4.5" fill="#707070"/>
<rect x="395" y="189.8" width="4.5" height="4.5" fill="#727272"/>
<rect x="399" y="189.8" width="4.5" height="4.5" fill="#777777"/>
<rect x="403" y="189.8" width="4.5" height="4.5" fill="#7a7a7a"/>
<rect x="407" y="189.8" width="12.5" height="4.5" fill="#7c7c7c"/>
<rect x="299" y="193.8" width="12.5" height="4.5" fill="#9e9e9e"/>
<rect x="311" y="193.8" width="4.5" height="4.5" fill="#9b9b9b"/>
<rect x="315" y="193.8" width="4.5" height="4.5" fill="#999999"/>
<rect x="319" y="193.8" width="4.5" height="4.5" fill="#969696"/>
<rect x="323" y="193.8" width="4.5" height="4.5" fill="#919191"/>
<rect x="327" y="193.8" width="4.5" height="4.5" fill="#8c8c8c"/>
<rect x="331" y="193.8" width="4.5" height="4.5" fill="#878787"/>
<rect x="335" y="193.8" width="4.5" height="4.5" fill="#7f7f7f"/>
<rect x="339" y="193.8" width="4.5" height="4.5" fill="#757575"/>
<rect x="343" y="193.8" width="4.5" height="4.5" fill="#6b6b6b"/>
<rect x="347" y="193.8" width="4.5" height="4.5" fill="#636363"/>
<rect x="351" y="193.8" width="4.5" height="4.5" fill="#595959"/>
<rect x="355" y="193.8" width="4.5" height="4.5" fill="#545454"/>
<rect x="359" y="193.8" width="4.5" height="4.5" fill="#515151"/>
<rect x="363" y="193.8" width="4.5" height="4.5" fill="#545454"/>
<rect x="367" y="193.8" width="4.5" height="4.5" fill="#565656"/>
<rect x="371" y="193.8" width="4.5" height="4.5" fill="#5b5b5b"/>
<rect x="375" y="193.8" width="4.5" height="4.5" fill="#5e5e5e"/>
<rect x="379" y="193.8" width="4.5" height="4.5" fill="#636363"/>
<rect x="383" y="193.8" width="4.5" height="4.5" fill="#666666"/>
<rect x="387" y="193.8" width="4.5" height="4.5" fill="#6b6b6b"/>
<rect x="391" y="193.8" width="4.5" height="4.5" fill="#6d6d6d"/>
<rect x="395" y="193.8" width="4.5" height="4.5" fill="#727272"/>
<rect x="399" y="193.8" width="4.5" height="4.5" fill="#757575"/>
<rect x="403" y="193.8" width="4.5" height="4.5" fill="#777777"/>
<rect x="407" y="193.8" width="4.5" height="4.5" fill="#7a7a7a"/>
<rect x="411" y="193.8" width="8.5" height="4.5" fill="#7c7c7c"/>
<rect x="299" y="197.8" width="12.5" height="4.5" fill="#a0a0a0"/>
<rect x="311" y="197.8" width="8.5" height="4.5" fill="#9e9e9e"/>
<rect x="319" y="197.8" width="4.5" height="4.5" fill="#9b9b9b"/>
<rect x="323" y="197.8" width="4.5" height="4.5" fill="#969696"/>
<rect x="327" y="197.8" width="4.5" height="4.5" fill="#939393"/>
<rect x="331" y="197.8" width="4.5" height="4.5" fill="#8c8c8c"/>
<rect x="335" y="197.8" width="4.5" height="4.5" fill="#878787"/>
<rect x="339" y="197.8" width="4.5" height="4.5" fill="#7c7c7c"/>
<rect x="343" y="197.8" width="4.5" height="4.5" fill="#707070"/>
<rect x="347" y="197.8" width="4.5" height="4.5" fill="#666666"/>
<rect x="351" y="197.8" width="4.5" height="4.5" fill="#5b5b5b"/>
<rect x="355" y="197.8" width="4.5" height="4.5" fill="#545454"/>
<rect x="359" y="197.8" width="4.5" height="4.5" fill="#515151"/>
<rect x="363" y="197.8" width="4.5" height="4.5" fill="#545454"/>
<rect x="367" y="197.8" width="4.5" height="4.5" fill="#565656"/>
<rect x="371" y="197.8" width="4.5" height="4.5" fill="#5b5b5b"/>
<rect x="375" y="197.8" width="4.5" height="4.5" fill="#5e5e5e"/>
<rect x="379" y="197.8" width="4.5" height="4.5" fill="#636363"/>
<rect x="383" y="197.8" width="4.5" height="4.5" fill="#666666"/>
<rect x="387" y="197.8" width="4.5" height="4.5" fill="#686868"/>
<rect x="391" y="197.8" width="4.5" height="4.5" fill="#6d6d6d"/>
<rect x="395" y="197.8" width="4.5" height="4.5" fill="#707070"/>
<rect x="399" y="197.8" width="4.5" height="4.5" fill="#727272"/>
<rect x="403" y="197.8" width="4.5" height="4.5" fill="#757575"/>
<rect x="407" y="197.8" width="12.5" height="4.5" fill="#777777"/>
<rect x="299" y="201.8" width="12.5" height="4.5" fill="#a3a3a3"/>
<rect x="311" y="201.8" width="4.5" height="4.5" fill="#a0a0a0"/>
<rect x="315" y="201.8" width="8.5" height="4.5" fill="#9e9e9e"/>
<rect x="323" y="201.8" width="4.5" height="4.5" fill="#9b9b9b"/>
<rect x="327" y="201.8" width="4.5" height="4.5" fill="#969696"/>
<rect x="331" y="201.8" width="4.5" height="4.5" fill="#939393"/>
<rect x="335" y="201.8" width="4.5" height="4.5" fill="#8c8c8c"/>
<rect x="339" y="201.8" width="4.5" height="4.5" fill="#828282"/>
<rect x="343" y="201.8" width="4.5" height="4.5" fill="#757575"/>
<rect x="347" y="201.8" width="4.5" height="4.5" fill="#686868"/>
<rect x="351" y="201.8" width="4.5" height="4.5" fill="#5e5e5e"/>
<rect x="355" y="201.8" width="4.5" height="4.5" fill="#565656"/>
<rect x="359" y="201.8" width="8.5" height="4.5" fill="#545454"/>
<rect x="367" y="201.8" width="4.5" height="4.5" fill="#565656"/>
<rect x="371" y="201.8" width="4.5" height="4.5" fill="#5b5b5b"/>
<rect x="375" y="201.8" width="4.5" height="4.5" fill="#606060"/>
<rect x="379" y="201.8" width="8.5" height="4.5" fill="#636363"/>
<rect x="387" y="201.8" width="4.5" height="4.5" fill="#666666"/>
<rect x="391" y="201.8" width="4.5" height="4.5" fill="#6b6b6b"/>
<rect x="395" y="201.8" width="4.5" height="4.5" fill="#6d6d6d"/>
<rect x="399" y="201.8" width="4.5" height="4.5" fill="#707070"/>
<rect x="403" y="201.8" width="4.5" height="4.5" fill="#727272"/>
<rect x="407" y="201.8" width="12.5" height="4.5" fill="#757575"/>
<rect x="299" y="205.8" width="8.5" height="4.5" fill="#a8a8a8"/>
<rect x="307" y="205.8" width="4.5" height="4.5" fill="#a5a5a5"/>
<rect x="311" y="205.8" width="4.5" height="4.5" fill="#a3a3a3"/>
<rect x="315" y="205.8" width="8.5" height="4.5" fill="#a0a0a0"/>
<rect x="323" y="205.8" width="4.5" height="4.5" fill="#9e9e9e"/>
<rect x="327" y="205.8" width="4.5" height="4.5" fill="#9b9b9b"/>
<rect x="331" y="205.8" width="4.5" height="4.5" fill="#969696"/>
<rect x="335" y="205.8" width="4.5" height="4.5" fill="#8e8e8e"/>
<rect x="339" y="205.8" width="4.5" height="4.5" fill="#848484"/>
<rect x="343" y="205.8" width="4.5" height="4.5" fill="#777777"/>
<rect x="347" y="205.8" width="4.5" height="4.5" fill="#6b6b6b"/>
<rect x="351" y="205.8" width="4.5" height="4.5" fill="#606060"/>
<rect x="355" y="205.8" width="4.5" height="4.5" fill="#595959"/>
<rect x="359" y="205.8" width="8.5" height="4.5" fill="#545454"/>
<rect x="367" y="205.8" width="4.5" height="4.5" fill="#565656"/>
<rect x="371" y="205.8" width="4.5" height="4.5" fill="#5b5b5b"/>
<rect x="375" y="205.8" width="4.5" height="4.5" fill="#606060"/>
<rect x="379" y="205.8" width="8.5" height="4.5" fill="#636363"/>
<rect x="387" y="205.8" width="8.5" height="4.5" fill="#666666"/>
<rect x="395" y="205.8" width="4.5" height="4.5" fill="#6b6b6b"/>
<rect x="399" y="205.8" width="8.5" height="4.5" fill="#6d6d6d"/>
<rect x="407" y="205.8" width="12.5" height="4.5" fill="#707070"/>
<rect x="299" y="209.8" width="8.5" height="4.5" fill="#adadad"/>
<rect x="307" y="209.8" width="4.5" height="4.5" fill="#aaaaaa"/>
<rect x="311" y="209.8" width="4.5" height="4.5" fill="#a8a8a8"/>
<rect x="315" y="209.8" width="4.5" height="4.5" fill="#a5a5a5"/>
<rect x="319" y="209.8" width="4.5" height="4.5" fill="#a0a0a0"/>
<rect x="323" y="209.8" width="4.5" height="4.5" fill="#9e9e9e"/>
<rect x="327" y="209.8" width="4.5" height="4.5" fill="#9b9b9b"/>
<rect x="331" y="209.8" width="4.5" height="4.5" fill="#999999"/>
<rect x="335" y="209.8" width="4.5" height="4.5" fill="#939393"/>
<rect x="339" y="209.8" width="4.5" height="4.5" fill="#898989"/>
<rect x="343" y="209.8" width="4.5" height="4.5" fill="#7c7c7c"/>
<rect x="347" y="209.8" width="4.5" height="4.5" fill="#707070"/>
<rect x="351" y="209.8" width="4.5" height="4.5" fill="#636363"/>
<rect x="355" y="209.8" width="4.5" height="4.5" fill="#595959"/>
<rect x="359" y="209.8" width="4.5" height="4.5" fill="#565656"/>
<rect x="363" y="209.8" width="4.5" height="4.5" fill="#545454"/>
<rect x="367" y="209.8" width="4.5" height="4.5" fill="#565656"/>
<rect x="371" y="209.8" width="4.5" height="4.5" fill="#5b5b5b"/>
<rect x="375" y="209.8" width="8.5" height="4.5" fill="#606060"/>
<rect x="383" y="209.8" width="8.5" height="4.5" fill="#636363"/>
<rect x="391" y="209.8" width="8.5" height="4.5" fill="#666666"/>
<rect x="399" y="209.8" width="4.5" height="4.5" fill="#686868"/>
<rect x="403" y="209.8" width="4.5" height="4.5" fill="#6b6b6b"/>
<rect x="407" y="209.8" width="12.5" height="4.5" fill="#6d6d6d"/>
<rect x="299" y="213.8" width="8.5" height="4.5" fill="#b2b2b2"/>
<rect x="307" y="213.8" width="4.5" height="4.5" fill="#afafaf"/>
<rect x="311" y="213.8" width="4.5" height="4.5" fill="#adadad"/>
<rect x="315" y="213.8" width="4.5" height="4.5" fill="#a8a8a8"/>
<rect x="319" y="213.8" width="4.5" height="4.5" fill="#a3a3a3"/>
<rect x="323" y="213.8" width="4.5" height="4.5" fill="#a0a0a0"/>
<rect x="327" y="213.8" width="4.5" height="4.5" fill="#9e9e9e"/>
<rect x="331" y="213.8" width="4.5" height="4.5" fill="#9b9b9b"/>
<rect x="335" y="213.8" width="4.5" height="4.5" fill="#969696"/>
<rect x="339" y="213.8" width="4.5" height="4.5" fill="#8c8c8c"/>
<rect x="343" y="213.8" width="4.5" height="4.5" fill="#7f7f7f"/>
<rect x="347" y="213.8" width="4.5" height="4.5" fill="#727272"/>
<rect x="351" y="213.8" width="4.5" height="4.5" fill="#666666"/>
<rect x="355" y="213.8" width="4.5" height="4.5" fill="#5b5b5b"/>
<rect x="359" y="213.8" width="12.5" height="4.5" fill="#565656"/>
<rect x="371" y="213.8" width="4.5" height="4.5" fill="#5b5b5b"/>
<rect x="375" y="213.8" width="4.5" height="4.5" fill="#606060"/>
<rect x="379" y="213.8" width="16.5" height="4.5" fill="#636363"/>
<rect x="395" y="213.8" width="8.5" height="4.5" fill="#666666"/>
<rect x="403" y="213.8" width="4.5" height="4.5" fill="#686868"/>
<rect x="407" y="213.8" width="12.5" height="4.5" fill="#6b6b6b"/>
<rect x="299" y="217.8" width="8.5" height="4.5" fill="#b5b5b5"/>
<rect x="307" y="217.8" width="4.5" height="4.5" fill="#b2b2b2"/>
<rect x="311" y="217.8" width="4.5" height="4.5" fill="#adadad"/>
<rect x="315" y="217.8" width="4.5" height="4.5" fill="#a8a8a8"/>
<rect x="319" y="217.8" width="4.5" height="4.5" fill="#a5a5a5"/>
<rect x="323" y="217.8" width="4.5" height="4.5" fill="#a0a0a0"/>
<rect x="327" y="217.8" width="8.5" height="4.5" fill="#9e9e9e"/>
<rect x="335" y="217.8" width="4.5" height="4.5" fill="#999999"/>
<rect x="339" y="217.8" width="4.5" height="4.5" fill="#8e8e8e"/>
<rect x="343" y="217.8" width="4.5" height="4.5" fill="#828282"/>
<rect x="347" y="217.8" width="4.5" height="4.5" fill="#727272"/>
<rect x="351" y="217.8" width="4.5" height="4.5" fill="#666666"/>
<rect x="355" y="217.8" width="4.5" height="4.5" fill="#5b5b5b"/>
<rect x="359" y="217.8" width="12.5" height="4.5" fill="#565656"/>
<rect x="371" y="217.8" width="4.5" height="4.5" fill="#5b5b5b"/>
<rect x="375" y="217.8" width="4.5" height="4.5" fill="#606060"/>
<rect x="379" y="217.8" width="16.5" height="4.5" fill="#636363"/>
<rect x="395" y="217.8" width="8.5" height="4.5" fill="#666666"/>
<rect x="403" y="217.8" width="4.5" height="4.5" fill="#686868"/>
<rect x="407" y="217.8" width="12.5" height="4.5" fill="#6b6b6b"/>
<rect x="299" y="221.8" width="8.5" height="4.5" fill="#b5b5b5"/>
<rect x="307" y="221.8" width="4.5" height="4.5" fill="#b2b2b2"/>
<rect x="311" y="221.8" width="4.5" height="4.5" fill="#adadad"/>
<rect x="315" y="221.8" width="4.5" height="4.5" fill="#a8a8a8"/>
<rect x="319" y="221.8" width="4.5" height="4.5" fill="#a5a5a5"/>
<rect x="323" y="221.8" width="4.5" height="4.5" fill="#a0a0a0"/>
<rect x="327" y="221.8" width="8.5" height="4.5" fill="#9e9e9e"/>
<rect x="335" y="221.8" width="4.5" height="4.5" fill="#999999"/>
<rect x="339" y="221.8" width="4.5" height="4.5" fill="#8e8e8e"/>
<rect x="343" y="221.8" width="4.5" height="4.5" fill="#828282"/>
<rect x="347" y="221.8" width="4.5" height="4.5" fill="#727272"/>
<rect x="351" y="221.8" width="4.5" height="4.5" fill="#666666"/>
<rect x="355" y="221.8" width="4.5" height="4.5" fill="#5b5b5b"/>
<rect x="359" y="221.8" width="12.5" height="4.5" fill="#565656"/>
<rect x="371" y="221.8" width="4.5" height="4.5" fill="#5b5b5b"/>
<rect x="375" y="221.8" width="4.5" height="4.5" fill="#606060"/>
<rect x="379" y="221.8" width="16.5" height="4.5" fill="#636363"/>
<rect x="395" y="221.8" width="8.5" height="4.5" fill="#666666"/>
<rect x="403" y="221.8" width="4.5" height="4.5" fill="#686868"/>
<rect x="407" y="221.8" width="12.5" height="4.5" fill="#6b6b6b"/>
</g></g>
<rect x="271.8" y="145.3" width="214.4" height="112.5" fill="none" stroke="#9c9c9c" stroke-width="0.7"/>
<path d="M295.4 257.8v-2.2M295.4 145.3v2.2M343.1 257.8v-2.2M343.1 145.3v2.2M390.9 257.8v-2.2M390.9 145.3v2.2M438.6 257.8v-2.2M438.6 145.3v2.2M271.8 159.5h2.2M486.2 159.5h-2.2M271.8 179.9h2.2M486.2 179.9h-2.2M271.8 200.4h2.2M486.2 200.4h-2.2M271.8 220.8h2.2M486.2 220.8h-2.2M271.8 241.3h2.2M486.2 241.3h-2.2" stroke="#9c9c9c" stroke-width="0.7" fill="none"/>
<path d="M280.9 169.9H435M280.9 180.1H435M280.9 200.6H435" stroke="#0a0a0a" stroke-width="1.1" stroke-dasharray="4.1 2.2" fill="none"/>
<path d="M271.8 161.5H295.4V217.4M419.8 217.4V161.5H486.2" stroke="#383838" stroke-width="1.3" fill="none"/>
<path d="M305 160.1L305 156.1M305.8 157.4L305 156.1L304.2 157.4M305 170.1L307.5 163.1M308 165.5L307.5 163.1L305.3 165.3M305 180.6L308 171.6M308.7 174.7L308 171.6L305.3 174.5M305 190.6L308 181.1M308.8 184.3L308 181.1L305.2 184.1M305 200.6L307.5 192.1M308.3 195L307.5 192.1L305 194.8M305 210.6L307 203.1M307.8 205.6L307 203.1L304.9 205.5M305 217.1L306 210.1M307 212.4L306 210.1L304.3 212.4M333.5 170.1L339 167.6M337.7 168.6L339 167.6L336.7 168.2M333.5 180.6L345 175.1M342.3 177.3L345 175.1L340.1 176.5M333.5 190.6L346 183.6M343.2 186.4L346 183.6L340.5 185.5M333.5 200.6L346 195.6M342.8 197.7L346 195.6L340.9 196.8M333.5 210.6L346 207.1M342.5 208.7L346 207.1L341.2 207.8M333.5 217.1L344 215.6M340.8 216.5L344 215.6L340.2 215.7M357 169.4L362 166.8M360.9 167.8L362 166.8L359.8 167.5M359 179.7L369 174.5M366.7 176.6L369 174.5L364.7 175.9M357 190.1L372 181.1M368.8 184.6L372 181.1L365.3 183.5M357 200.1L372 191.1M368.8 194.6L372 191.1L365.3 193.5M357 210.6L369 204.1M366.3 206.7L369 204.1L363.8 205.8M357 217.1L368 211.8M365.4 213.9L368 211.8L363.3 213.2M381 190.7L390 188.7M387.4 189.7L390 188.7L386.6 189M381 211.8L381 219.5M379.5 217L381 219.5L382.5 217M383 180.6L391 177.6M388.9 178.9L391 177.6L387.8 178.3M358 160.1L467.5 171.6M458.5 171.6L467.5 171.6L459.6 169.8M383 160.1L478 174.1M468.9 173.8L478 174.1L470.3 172M410.5 160.1L478 174.4M468.7 173.5L478 174.4L470.7 171.7M380.5 159.9L401.4 177.1M391.7 172.4L401.4 177.1L398 171M383 170.4L480 180.1M471 180.2L480 180.1L472 178.3M410.5 170.1L479.5 180.6M470.4 180.2L479.5 180.6L471.8 178.4M420 162.1L475.5 173.1M466.2 172.3L475.5 173.1L468.1 170.6M410.5 160.1L434 207.1M425.8 199.9L434 207.1L434.6 199.1M410.5 170.1L425 215.1M417.7 207.3L425 215.1L427.1 206.7M410.5 180.6L420 222.1M413.3 214L420 222.1L422.9 213.6M410.5 190.6L415.5 227.6M409.4 219.3L415.5 227.6L419.3 219.1M410.5 200.6L410.5 232.1M405.5 223.6L410.5 232.1L415.5 223.6M410.5 210.6L410.5 239.1M405.5 230.6L410.5 239.1L415.5 230.6M410.5 217.1L410.5 247.7M405.5 239.2L410.5 247.7L415.5 239.2" fill="none" stroke="#141414" stroke-width="0.6" stroke-linejoin="miter"/>
<path d="M61.5 40.5C66 39.2 72 38.8 78 38.9C92 39 104 40 115.5 41.5C125 42.8 134 45 141.5 48.5C149 52 155 57 158 63C160 67 160.3 71 159.4 75.5C158 82.5 154 88 148.5 92C144 95 138 97 131 98" transform="translate(234.5 119.6)" stroke="#951295" stroke-width="1.5" fill="none" stroke-linecap="round"/>
<text x="436.7" y="172.6" class="ser" textLength="45" lengthAdjust="spacingAndGlyphs"><tspan font-style="italic">y</tspan> = 0.72 m</text>
<text x="436.7" y="182.8" class="ser" textLength="45" lengthAdjust="spacingAndGlyphs"><tspan font-style="italic">y</tspan> = 0.77 m</text>
<text x="436.7" y="203.3" class="ser" textLength="45" lengthAdjust="spacingAndGlyphs"><tspan font-style="italic">y</tspan> = 0.87 m</text>
<text x="483.3" y="152.9" class="bold" text-anchor="end">d)</text>
<path d="M295.4 242.4L295.4 250.8M293.8 248L295.4 250.8L297 248" fill="none" stroke="#333" stroke-width="0.7"/>
<text x="297.9" y="249.1" class="sc">0.10 ms<tspan dy="-3.9" font-size="7">-1</tspan></text>
<text x="295.4" y="270.6" class="tk" text-anchor="middle">0.00</text>
<text x="343.1" y="270.6" class="tk" text-anchor="middle">0.10</text>
<text x="390.9" y="270.6" class="tk" text-anchor="middle">0.20</text>
<text x="438.6" y="270.6" class="tk" text-anchor="middle">0.30</text>
<text x="144.6" y="11.7" class="bold" text-anchor="middle">Without Vanes</text>
<text x="379.2" y="11.7" class="bold" text-anchor="middle">With Vanes</text>
<text x="144.5" y="284.1" class="lab" text-anchor="middle">x (m)</text>
<text x="379" y="284.1" class="lab" text-anchor="middle">x (m)</text>
<text transform="translate(10.3 81.2) rotate(-90)" class="lab" text-anchor="middle">y (m)</text>
<text transform="translate(10.3 200.8) rotate(-90)" class="lab" text-anchor="middle">y (m)</text>
<rect x="504.4" y="25.6" width="12.2" height="98.4" fill="url(#cbg)"/>
<text x="519.4" y="29.2" class="cb">0.20</text>
<text x="519.4" y="43.3" class="cb">0.15</text>
<text x="519.4" y="57.3" class="cb">0.10</text>
<text x="519.4" y="71.4" class="cb">0.05</text>
<text x="519.4" y="85.4" class="cb">0</text>
<text x="519.4" y="99.5" class="cb">-0.05</text>
<text x="519.4" y="113.5" class="cb">-0.10</text>
<text x="519.4" y="127.6" class="cb">-0.15</text>
<text x="487.4" y="18.5" class="lab" style="font-size:9.9px">w (ms<tspan dy="-4.2" font-size="7">-1</tspan><tspan dy="4.2">)</tspan></text>
</svg></body></html>
